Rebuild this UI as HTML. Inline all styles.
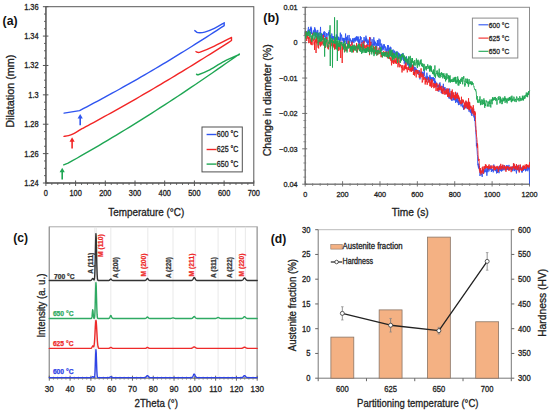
<!DOCTYPE html>
<html><head><meta charset="utf-8"><style>
html,body{margin:0;padding:0;background:#fff;width:550px;height:412px;overflow:hidden}
svg{display:block}
text{font-family:"Liberation Sans",sans-serif}
</style></head><body>
<svg width="550" height="412" viewBox="0 0 550 412">
<rect x="45.9" y="6.7" width="207.9" height="176.3" fill="none" stroke="#585858" stroke-width="1"/>
<line x1="45.90" y1="6.70" x2="45.90" y2="183.00" stroke="#666" stroke-width="1.4"/>
<line x1="45.90" y1="183.00" x2="253.80" y2="183.00" stroke="#666" stroke-width="1.4"/>
<line x1="42.90" y1="183.00" x2="48.40" y2="183.00" stroke="#555" stroke-width="1"/>
<text x="38.60" y="185.90" font-size="8.14" text-anchor="end" fill="#222" stroke="#222" stroke-width="0.3" textLength="14.4" lengthAdjust="spacingAndGlyphs">1.24</text>
<line x1="44.00" y1="175.65" x2="45.90" y2="175.65" stroke="#555" stroke-width="0.9"/>
<line x1="44.00" y1="168.31" x2="45.90" y2="168.31" stroke="#555" stroke-width="0.9"/>
<line x1="44.00" y1="160.96" x2="45.90" y2="160.96" stroke="#555" stroke-width="0.9"/>
<line x1="42.90" y1="153.62" x2="48.40" y2="153.62" stroke="#555" stroke-width="1"/>
<text x="38.60" y="156.52" font-size="8.14" text-anchor="end" fill="#222" stroke="#222" stroke-width="0.3" textLength="14.4" lengthAdjust="spacingAndGlyphs">1.26</text>
<line x1="44.00" y1="146.27" x2="45.90" y2="146.27" stroke="#555" stroke-width="0.9"/>
<line x1="44.00" y1="138.92" x2="45.90" y2="138.92" stroke="#555" stroke-width="0.9"/>
<line x1="44.00" y1="131.58" x2="45.90" y2="131.58" stroke="#555" stroke-width="0.9"/>
<line x1="42.90" y1="124.23" x2="48.40" y2="124.23" stroke="#555" stroke-width="1"/>
<text x="38.60" y="127.13" font-size="8.14" text-anchor="end" fill="#222" stroke="#222" stroke-width="0.3" textLength="14.4" lengthAdjust="spacingAndGlyphs">1.28</text>
<line x1="44.00" y1="116.89" x2="45.90" y2="116.89" stroke="#555" stroke-width="0.9"/>
<line x1="44.00" y1="109.54" x2="45.90" y2="109.54" stroke="#555" stroke-width="0.9"/>
<line x1="44.00" y1="102.20" x2="45.90" y2="102.20" stroke="#555" stroke-width="0.9"/>
<line x1="42.90" y1="94.85" x2="48.40" y2="94.85" stroke="#555" stroke-width="1"/>
<text x="38.60" y="97.75" font-size="8.14" text-anchor="end" fill="#222" stroke="#222" stroke-width="0.3" textLength="10.29" lengthAdjust="spacingAndGlyphs">1.3</text>
<line x1="44.00" y1="87.50" x2="45.90" y2="87.50" stroke="#555" stroke-width="0.9"/>
<line x1="44.00" y1="80.16" x2="45.90" y2="80.16" stroke="#555" stroke-width="0.9"/>
<line x1="44.00" y1="72.81" x2="45.90" y2="72.81" stroke="#555" stroke-width="0.9"/>
<line x1="42.90" y1="65.47" x2="48.40" y2="65.47" stroke="#555" stroke-width="1"/>
<text x="38.60" y="68.37" font-size="8.14" text-anchor="end" fill="#222" stroke="#222" stroke-width="0.3" textLength="14.4" lengthAdjust="spacingAndGlyphs">1.32</text>
<line x1="44.00" y1="58.12" x2="45.90" y2="58.12" stroke="#555" stroke-width="0.9"/>
<line x1="44.00" y1="50.77" x2="45.90" y2="50.77" stroke="#555" stroke-width="0.9"/>
<line x1="44.00" y1="43.43" x2="45.90" y2="43.43" stroke="#555" stroke-width="0.9"/>
<line x1="42.90" y1="36.08" x2="48.40" y2="36.08" stroke="#555" stroke-width="1"/>
<text x="38.60" y="38.98" font-size="8.14" text-anchor="end" fill="#222" stroke="#222" stroke-width="0.3" textLength="14.4" lengthAdjust="spacingAndGlyphs">1.34</text>
<line x1="44.00" y1="28.74" x2="45.90" y2="28.74" stroke="#555" stroke-width="0.9"/>
<line x1="44.00" y1="21.39" x2="45.90" y2="21.39" stroke="#555" stroke-width="0.9"/>
<line x1="44.00" y1="14.05" x2="45.90" y2="14.05" stroke="#555" stroke-width="0.9"/>
<line x1="42.90" y1="6.70" x2="48.40" y2="6.70" stroke="#555" stroke-width="1"/>
<text x="38.60" y="9.60" font-size="8.14" text-anchor="end" fill="#222" stroke="#222" stroke-width="0.3" textLength="14.4" lengthAdjust="spacingAndGlyphs">1.36</text>
<line x1="45.90" y1="180.50" x2="45.90" y2="186.00" stroke="#555" stroke-width="1"/>
<text x="45.90" y="196.20" font-size="8.14" text-anchor="middle" fill="#222" stroke="#222" stroke-width="0.3" textLength="4.12" lengthAdjust="spacingAndGlyphs">0</text>
<line x1="51.84" y1="183.00" x2="51.84" y2="184.90" stroke="#555" stroke-width="0.9"/>
<line x1="57.78" y1="183.00" x2="57.78" y2="184.90" stroke="#555" stroke-width="0.9"/>
<line x1="63.72" y1="183.00" x2="63.72" y2="184.90" stroke="#555" stroke-width="0.9"/>
<line x1="69.66" y1="183.00" x2="69.66" y2="184.90" stroke="#555" stroke-width="0.9"/>
<line x1="75.60" y1="180.50" x2="75.60" y2="186.00" stroke="#555" stroke-width="1"/>
<text x="75.60" y="196.20" font-size="8.14" text-anchor="middle" fill="#222" stroke="#222" stroke-width="0.3" textLength="12.35" lengthAdjust="spacingAndGlyphs">100</text>
<line x1="81.54" y1="183.00" x2="81.54" y2="184.90" stroke="#555" stroke-width="0.9"/>
<line x1="87.48" y1="183.00" x2="87.48" y2="184.90" stroke="#555" stroke-width="0.9"/>
<line x1="93.42" y1="183.00" x2="93.42" y2="184.90" stroke="#555" stroke-width="0.9"/>
<line x1="99.36" y1="183.00" x2="99.36" y2="184.90" stroke="#555" stroke-width="0.9"/>
<line x1="105.30" y1="180.50" x2="105.30" y2="186.00" stroke="#555" stroke-width="1"/>
<text x="105.30" y="196.20" font-size="8.14" text-anchor="middle" fill="#222" stroke="#222" stroke-width="0.3" textLength="12.35" lengthAdjust="spacingAndGlyphs">200</text>
<line x1="111.24" y1="183.00" x2="111.24" y2="184.90" stroke="#555" stroke-width="0.9"/>
<line x1="117.18" y1="183.00" x2="117.18" y2="184.90" stroke="#555" stroke-width="0.9"/>
<line x1="123.12" y1="183.00" x2="123.12" y2="184.90" stroke="#555" stroke-width="0.9"/>
<line x1="129.06" y1="183.00" x2="129.06" y2="184.90" stroke="#555" stroke-width="0.9"/>
<line x1="135.00" y1="180.50" x2="135.00" y2="186.00" stroke="#555" stroke-width="1"/>
<text x="135.00" y="196.20" font-size="8.14" text-anchor="middle" fill="#222" stroke="#222" stroke-width="0.3" textLength="12.35" lengthAdjust="spacingAndGlyphs">300</text>
<line x1="140.94" y1="183.00" x2="140.94" y2="184.90" stroke="#555" stroke-width="0.9"/>
<line x1="146.88" y1="183.00" x2="146.88" y2="184.90" stroke="#555" stroke-width="0.9"/>
<line x1="152.82" y1="183.00" x2="152.82" y2="184.90" stroke="#555" stroke-width="0.9"/>
<line x1="158.76" y1="183.00" x2="158.76" y2="184.90" stroke="#555" stroke-width="0.9"/>
<line x1="164.70" y1="180.50" x2="164.70" y2="186.00" stroke="#555" stroke-width="1"/>
<text x="164.70" y="196.20" font-size="8.14" text-anchor="middle" fill="#222" stroke="#222" stroke-width="0.3" textLength="12.35" lengthAdjust="spacingAndGlyphs">400</text>
<line x1="170.64" y1="183.00" x2="170.64" y2="184.90" stroke="#555" stroke-width="0.9"/>
<line x1="176.58" y1="183.00" x2="176.58" y2="184.90" stroke="#555" stroke-width="0.9"/>
<line x1="182.52" y1="183.00" x2="182.52" y2="184.90" stroke="#555" stroke-width="0.9"/>
<line x1="188.46" y1="183.00" x2="188.46" y2="184.90" stroke="#555" stroke-width="0.9"/>
<line x1="194.40" y1="180.50" x2="194.40" y2="186.00" stroke="#555" stroke-width="1"/>
<text x="194.40" y="196.20" font-size="8.14" text-anchor="middle" fill="#222" stroke="#222" stroke-width="0.3" textLength="12.35" lengthAdjust="spacingAndGlyphs">500</text>
<line x1="200.34" y1="183.00" x2="200.34" y2="184.90" stroke="#555" stroke-width="0.9"/>
<line x1="206.28" y1="183.00" x2="206.28" y2="184.90" stroke="#555" stroke-width="0.9"/>
<line x1="212.22" y1="183.00" x2="212.22" y2="184.90" stroke="#555" stroke-width="0.9"/>
<line x1="218.16" y1="183.00" x2="218.16" y2="184.90" stroke="#555" stroke-width="0.9"/>
<line x1="224.10" y1="180.50" x2="224.10" y2="186.00" stroke="#555" stroke-width="1"/>
<text x="224.10" y="196.20" font-size="8.14" text-anchor="middle" fill="#222" stroke="#222" stroke-width="0.3" textLength="12.35" lengthAdjust="spacingAndGlyphs">600</text>
<line x1="230.04" y1="183.00" x2="230.04" y2="184.90" stroke="#555" stroke-width="0.9"/>
<line x1="235.98" y1="183.00" x2="235.98" y2="184.90" stroke="#555" stroke-width="0.9"/>
<line x1="241.92" y1="183.00" x2="241.92" y2="184.90" stroke="#555" stroke-width="0.9"/>
<line x1="247.86" y1="183.00" x2="247.86" y2="184.90" stroke="#555" stroke-width="0.9"/>
<line x1="253.80" y1="180.50" x2="253.80" y2="186.00" stroke="#555" stroke-width="1"/>
<text x="253.80" y="196.20" font-size="8.14" text-anchor="middle" fill="#222" stroke="#222" stroke-width="0.3" textLength="12.35" lengthAdjust="spacingAndGlyphs">700</text>
<text x="14.00" y="91.20" font-size="11" text-anchor="middle" fill="#222" stroke="#222" stroke-width="0.3" transform="rotate(-90 14.00 91.20)" textLength="73" lengthAdjust="spacingAndGlyphs">Dilatation (mm)</text>
<text x="146.25" y="216.40" font-size="10.8" text-anchor="middle" fill="#222" stroke="#222" stroke-width="0.3" textLength="76" lengthAdjust="spacingAndGlyphs">Temperature (°C)</text>
<text x="2.60" y="25.00" font-size="12" text-anchor="start" fill="#111" font-weight="bold" textLength="15" lengthAdjust="spacingAndGlyphs">(a)</text>
<path d="M64.10,113.10 L79.60,110.60 L83.21,108.69 L86.83,106.80 L90.44,104.90 L94.06,102.99 L97.67,101.06 L101.29,99.12 L104.91,97.17 L108.52,95.21 L112.13,93.23 L115.75,91.24 L119.36,89.24 L122.98,87.22 L126.59,85.19 L130.21,83.15 L133.82,81.09 L137.44,79.03 L141.06,76.95 L144.67,74.85 L148.28,72.75 L151.90,70.63 L155.51,68.50 L159.13,66.35 L162.75,64.20 L166.36,62.03 L169.97,59.84 L173.59,57.65 L177.20,55.44 L180.82,53.22 L184.44,50.99 L188.05,48.74 L191.66,46.48 L195.28,44.21 L198.89,41.92 L202.51,39.62 L206.12,37.31 L209.74,34.99 L213.35,32.65 L216.97,30.30 L220.58,27.94 L224.20,25.57 L224.20,22.80 M224.20,22.80 C222.57,23.73 217.65,26.85 214.40,28.40 C211.15,29.95 207.45,31.40 204.70,32.10 C201.95,32.80 199.38,32.72 197.90,32.60 C196.42,32.48 196.32,31.73 195.80,31.40 C195.28,31.07 194.97,30.73 194.80,30.60" fill="none" stroke="#2f55f0" stroke-width="1.4" stroke-linejoin="round" stroke-linecap="round"/>
<path d="M64.00,136.40 C64.75,136.27 66.97,136.03 68.50,135.60 C70.03,135.17 71.62,134.55 73.20,133.80 C74.78,133.05 76.53,131.95 78.00,131.10 C79.47,130.25 80.00,129.82 82.00,128.70 C84.00,127.58 88.67,125.12 90.00,124.40 M90.00,124.43 L93.54,122.52 L97.08,120.59 L100.61,118.65 L104.15,116.71 L107.69,114.75 L111.22,112.79 L114.76,110.82 L118.30,108.83 L121.84,106.84 L125.38,104.84 L128.91,102.83 L132.45,100.81 L135.99,98.78 L139.53,96.74 L143.06,94.70 L146.60,92.64 L150.14,90.57 L153.68,88.50 L157.21,86.42 L160.75,84.32 L164.29,82.22 L167.82,80.11 L171.36,77.99 L174.90,75.86 L178.44,73.72 L181.97,71.57 L185.51,69.41 L189.05,67.24 L192.59,65.07 L196.12,62.88 L199.66,60.69 L203.20,58.48 L206.74,56.27 L210.28,54.05 L213.81,51.82 L217.35,49.57 L220.89,47.32 L224.43,45.06 L227.96,42.80 L231.50,40.52 L231.50,37.40 M231.50,37.40 C228.65,38.85 219.52,43.68 214.40,46.10 C209.28,48.52 203.62,50.87 200.80,51.90 C197.98,52.93 198.30,52.35 197.50,52.30 C196.70,52.25 196.25,51.72 196.00,51.60" fill="none" stroke="#f22525" stroke-width="1.4" stroke-linejoin="round" stroke-linecap="round"/>
<path d="M63.70,164.90 L68.09,163.20 L72.48,160.73 L76.87,158.24 L81.26,155.73 L85.65,153.21 L90.04,150.67 L94.43,148.12 L98.82,145.54 L103.21,142.95 L107.60,140.34 L111.99,137.71 L116.38,135.07 L120.77,132.41 L125.16,129.73 L129.55,127.03 L133.94,124.32 L138.33,121.59 L142.72,118.84 L147.11,116.07 L151.50,113.29 L155.89,110.49 L160.28,107.67 L164.67,104.83 L169.06,101.98 L173.45,99.11 L177.84,96.22 L182.23,93.32 L186.62,90.39 L191.01,87.45 L195.40,84.50 L199.79,81.52 L204.18,78.53 L208.57,75.52 L212.96,72.49 L217.35,69.45 L221.74,66.38 L226.13,63.30 L230.52,60.21 L234.91,57.09 L239.30,53.96 M239.30,54.50 C236.78,55.63 229.32,58.65 224.20,61.30 C219.08,63.95 212.82,68.20 208.60,70.40 C204.38,72.60 200.92,73.87 198.90,74.50 C196.88,75.13 196.90,74.25 196.50,74.20" fill="none" stroke="#1ea653" stroke-width="1.4" stroke-linejoin="round" stroke-linecap="round"/>
<line x1="80.20" y1="125.20" x2="80.20" y2="117.00" stroke="#2f55f0" stroke-width="1.6"/>
<polygon points="77.60,118.50 82.80,118.50 80.20,114.00" fill="#2f55f0"/>
<line x1="72.10" y1="148.50" x2="72.10" y2="140.20" stroke="#f22525" stroke-width="1.6"/>
<polygon points="69.50,141.70 74.70,141.70 72.10,137.20" fill="#f22525"/>
<line x1="62.20" y1="179.50" x2="62.20" y2="170.80" stroke="#1ea653" stroke-width="1.6"/>
<polygon points="59.60,172.30 64.80,172.30 62.20,167.80" fill="#1ea653"/>
<rect x="202" y="127" width="40.3" height="44.9" fill="#fff" stroke="#505050" stroke-width="1"/>
<line x1="206.60" y1="134.50" x2="216.50" y2="134.50" stroke="#2f55f0" stroke-width="1.4"/>
<text x="216.80" y="137.40" font-size="8.2" text-anchor="start" fill="#222" stroke="#222" stroke-width="0.3" textLength="21.6" lengthAdjust="spacingAndGlyphs">600 °C</text>
<line x1="206.60" y1="149.50" x2="216.50" y2="149.50" stroke="#f22525" stroke-width="1.4"/>
<text x="216.80" y="152.40" font-size="8.2" text-anchor="start" fill="#222" stroke="#222" stroke-width="0.3" textLength="21.6" lengthAdjust="spacingAndGlyphs">625 °C</text>
<line x1="206.60" y1="164.10" x2="216.50" y2="164.10" stroke="#1ea653" stroke-width="1.4"/>
<text x="216.80" y="167.00" font-size="8.2" text-anchor="start" fill="#222" stroke="#222" stroke-width="0.3" textLength="21.6" lengthAdjust="spacingAndGlyphs">650 °C</text>
<rect x="305.2" y="7.3" width="224.3" height="176.89999999999998" fill="none" stroke="#8c8c8c" stroke-width="1"/>
<line x1="305.20" y1="7.30" x2="305.20" y2="184.20" stroke="#6f6f6f" stroke-width="1.0"/>
<line x1="305.20" y1="184.20" x2="529.50" y2="184.20" stroke="#6f6f6f" stroke-width="1.0"/>
<line x1="302.20" y1="184.20" x2="307.20" y2="184.20" stroke="#666" stroke-width="0.9"/>
<text x="297.60" y="187.00" font-size="8.03" text-anchor="end" fill="#222" stroke="#222" stroke-width="0.3" textLength="14.21" lengthAdjust="spacingAndGlyphs">0.04</text>
<line x1="303.40" y1="177.12" x2="306.20" y2="177.12" stroke="#777" stroke-width="0.8"/>
<line x1="303.40" y1="170.05" x2="306.20" y2="170.05" stroke="#777" stroke-width="0.8"/>
<line x1="303.40" y1="162.97" x2="306.20" y2="162.97" stroke="#777" stroke-width="0.8"/>
<line x1="303.40" y1="155.90" x2="306.20" y2="155.90" stroke="#777" stroke-width="0.8"/>
<line x1="302.20" y1="148.82" x2="307.20" y2="148.82" stroke="#666" stroke-width="0.9"/>
<text x="297.60" y="151.62" font-size="8.03" text-anchor="end" fill="#222" stroke="#222" stroke-width="0.3" textLength="18.47" lengthAdjust="spacingAndGlyphs">−0.03</text>
<line x1="303.40" y1="141.74" x2="306.20" y2="141.74" stroke="#777" stroke-width="0.8"/>
<line x1="303.40" y1="134.67" x2="306.20" y2="134.67" stroke="#777" stroke-width="0.8"/>
<line x1="303.40" y1="127.59" x2="306.20" y2="127.59" stroke="#777" stroke-width="0.8"/>
<line x1="303.40" y1="120.52" x2="306.20" y2="120.52" stroke="#777" stroke-width="0.8"/>
<line x1="302.20" y1="113.44" x2="307.20" y2="113.44" stroke="#666" stroke-width="0.9"/>
<text x="297.60" y="116.24" font-size="8.03" text-anchor="end" fill="#222" stroke="#222" stroke-width="0.3" textLength="18.47" lengthAdjust="spacingAndGlyphs">−0.02</text>
<line x1="303.40" y1="106.36" x2="306.20" y2="106.36" stroke="#777" stroke-width="0.8"/>
<line x1="303.40" y1="99.29" x2="306.20" y2="99.29" stroke="#777" stroke-width="0.8"/>
<line x1="303.40" y1="92.21" x2="306.20" y2="92.21" stroke="#777" stroke-width="0.8"/>
<line x1="303.40" y1="85.14" x2="306.20" y2="85.14" stroke="#777" stroke-width="0.8"/>
<line x1="302.20" y1="78.06" x2="307.20" y2="78.06" stroke="#666" stroke-width="0.9"/>
<text x="297.60" y="80.86" font-size="8.03" text-anchor="end" fill="#222" stroke="#222" stroke-width="0.3" textLength="18.47" lengthAdjust="spacingAndGlyphs">−0.01</text>
<line x1="303.40" y1="70.98" x2="306.20" y2="70.98" stroke="#777" stroke-width="0.8"/>
<line x1="303.40" y1="63.91" x2="306.20" y2="63.91" stroke="#777" stroke-width="0.8"/>
<line x1="303.40" y1="56.83" x2="306.20" y2="56.83" stroke="#777" stroke-width="0.8"/>
<line x1="303.40" y1="49.76" x2="306.20" y2="49.76" stroke="#777" stroke-width="0.8"/>
<line x1="302.20" y1="42.68" x2="307.20" y2="42.68" stroke="#666" stroke-width="0.9"/>
<text x="297.60" y="45.48" font-size="8.03" text-anchor="end" fill="#222" stroke="#222" stroke-width="0.3" textLength="4.06" lengthAdjust="spacingAndGlyphs">0</text>
<line x1="303.40" y1="35.60" x2="306.20" y2="35.60" stroke="#777" stroke-width="0.8"/>
<line x1="303.40" y1="28.53" x2="306.20" y2="28.53" stroke="#777" stroke-width="0.8"/>
<line x1="303.40" y1="21.45" x2="306.20" y2="21.45" stroke="#777" stroke-width="0.8"/>
<line x1="303.40" y1="14.38" x2="306.20" y2="14.38" stroke="#777" stroke-width="0.8"/>
<line x1="302.20" y1="7.30" x2="307.20" y2="7.30" stroke="#666" stroke-width="0.9"/>
<text x="297.60" y="10.10" font-size="8.03" text-anchor="end" fill="#222" stroke="#222" stroke-width="0.3" textLength="14.21" lengthAdjust="spacingAndGlyphs">0.01</text>
<line x1="305.20" y1="181.20" x2="305.20" y2="186.50" stroke="#666" stroke-width="0.9"/>
<text x="305.20" y="196.70" font-size="8.03" text-anchor="middle" fill="#222" stroke="#222" stroke-width="0.3" textLength="4.06" lengthAdjust="spacingAndGlyphs">0</text>
<line x1="312.68" y1="183.20" x2="312.68" y2="186.00" stroke="#777" stroke-width="0.8"/>
<line x1="320.15" y1="183.20" x2="320.15" y2="186.00" stroke="#777" stroke-width="0.8"/>
<line x1="327.63" y1="183.20" x2="327.63" y2="186.00" stroke="#777" stroke-width="0.8"/>
<line x1="335.11" y1="183.20" x2="335.11" y2="186.00" stroke="#777" stroke-width="0.8"/>
<line x1="342.58" y1="181.20" x2="342.58" y2="186.50" stroke="#666" stroke-width="0.9"/>
<text x="342.58" y="196.70" font-size="8.03" text-anchor="middle" fill="#222" stroke="#222" stroke-width="0.3" textLength="12.18" lengthAdjust="spacingAndGlyphs">200</text>
<line x1="350.06" y1="183.20" x2="350.06" y2="186.00" stroke="#777" stroke-width="0.8"/>
<line x1="357.54" y1="183.20" x2="357.54" y2="186.00" stroke="#777" stroke-width="0.8"/>
<line x1="365.01" y1="183.20" x2="365.01" y2="186.00" stroke="#777" stroke-width="0.8"/>
<line x1="372.49" y1="183.20" x2="372.49" y2="186.00" stroke="#777" stroke-width="0.8"/>
<line x1="379.97" y1="181.20" x2="379.97" y2="186.50" stroke="#666" stroke-width="0.9"/>
<text x="379.97" y="196.70" font-size="8.03" text-anchor="middle" fill="#222" stroke="#222" stroke-width="0.3" textLength="12.18" lengthAdjust="spacingAndGlyphs">400</text>
<line x1="387.44" y1="183.20" x2="387.44" y2="186.00" stroke="#777" stroke-width="0.8"/>
<line x1="394.92" y1="183.20" x2="394.92" y2="186.00" stroke="#777" stroke-width="0.8"/>
<line x1="402.40" y1="183.20" x2="402.40" y2="186.00" stroke="#777" stroke-width="0.8"/>
<line x1="409.87" y1="183.20" x2="409.87" y2="186.00" stroke="#777" stroke-width="0.8"/>
<line x1="417.35" y1="181.20" x2="417.35" y2="186.50" stroke="#666" stroke-width="0.9"/>
<text x="417.35" y="196.70" font-size="8.03" text-anchor="middle" fill="#222" stroke="#222" stroke-width="0.3" textLength="12.18" lengthAdjust="spacingAndGlyphs">600</text>
<line x1="424.83" y1="183.20" x2="424.83" y2="186.00" stroke="#777" stroke-width="0.8"/>
<line x1="432.30" y1="183.20" x2="432.30" y2="186.00" stroke="#777" stroke-width="0.8"/>
<line x1="439.78" y1="183.20" x2="439.78" y2="186.00" stroke="#777" stroke-width="0.8"/>
<line x1="447.26" y1="183.20" x2="447.26" y2="186.00" stroke="#777" stroke-width="0.8"/>
<line x1="454.73" y1="181.20" x2="454.73" y2="186.50" stroke="#666" stroke-width="0.9"/>
<text x="454.73" y="196.70" font-size="8.03" text-anchor="middle" fill="#222" stroke="#222" stroke-width="0.3" textLength="12.18" lengthAdjust="spacingAndGlyphs">800</text>
<line x1="462.21" y1="183.20" x2="462.21" y2="186.00" stroke="#777" stroke-width="0.8"/>
<line x1="469.69" y1="183.20" x2="469.69" y2="186.00" stroke="#777" stroke-width="0.8"/>
<line x1="477.16" y1="183.20" x2="477.16" y2="186.00" stroke="#777" stroke-width="0.8"/>
<line x1="484.64" y1="183.20" x2="484.64" y2="186.00" stroke="#777" stroke-width="0.8"/>
<line x1="492.12" y1="181.20" x2="492.12" y2="186.50" stroke="#666" stroke-width="0.9"/>
<text x="492.12" y="196.70" font-size="8.03" text-anchor="middle" fill="#222" stroke="#222" stroke-width="0.3" textLength="16.24" lengthAdjust="spacingAndGlyphs">1000</text>
<line x1="499.59" y1="183.20" x2="499.59" y2="186.00" stroke="#777" stroke-width="0.8"/>
<line x1="507.07" y1="183.20" x2="507.07" y2="186.00" stroke="#777" stroke-width="0.8"/>
<line x1="514.55" y1="183.20" x2="514.55" y2="186.00" stroke="#777" stroke-width="0.8"/>
<line x1="522.02" y1="183.20" x2="522.02" y2="186.00" stroke="#777" stroke-width="0.8"/>
<line x1="529.50" y1="181.20" x2="529.50" y2="186.50" stroke="#666" stroke-width="0.9"/>
<text x="529.50" y="196.70" font-size="8.03" text-anchor="middle" fill="#222" stroke="#222" stroke-width="0.3" textLength="16.24" lengthAdjust="spacingAndGlyphs">1200</text>
<text x="271.00" y="100.30" font-size="11" text-anchor="middle" fill="#222" stroke="#222" stroke-width="0.3" transform="rotate(-90 271.00 100.30)" textLength="112" lengthAdjust="spacingAndGlyphs">Change in diameter (%)</text>
<text x="410.20" y="215.70" font-size="10.8" text-anchor="middle" fill="#222" stroke="#222" stroke-width="0.3" textLength="37" lengthAdjust="spacingAndGlyphs">Time (s)</text>
<text x="263.30" y="21.60" font-size="12" text-anchor="start" fill="#111" font-weight="bold" textLength="16" lengthAdjust="spacingAndGlyphs">(b)</text>
<polyline points="305.20,32.23 305.39,35.11 305.57,30.91 305.76,34.07 305.95,32.19 306.13,31.55 306.32,36.54 306.51,34.12 306.70,32.81 306.88,34.23 307.07,35.70 307.26,33.45 307.44,34.18 307.63,30.70 307.82,30.96 308.00,30.90 308.19,28.75 308.38,27.60 308.56,26.93 308.75,30.05 308.94,31.32 309.13,31.43 309.31,32.42 309.50,29.42 309.69,31.41 309.87,32.88 310.06,34.65 310.25,31.46 310.43,31.43 310.62,27.56 310.81,29.86 310.99,26.62 311.18,27.37 311.37,33.70 311.56,28.01 311.74,33.24 311.93,33.96 312.12,32.70 312.30,34.13 312.49,34.81 312.68,36.32 312.86,33.80 313.05,32.07 313.24,31.46 313.42,30.35 313.61,32.24 313.80,31.14 313.99,35.23 314.17,29.63 314.36,29.55 314.55,29.88 314.73,27.28 314.92,35.98 315.11,28.70 315.29,31.27 315.48,31.61 315.67,36.99 315.85,30.15 316.04,35.11 316.23,32.54 316.41,33.05 316.60,32.01 316.79,34.81 316.98,31.54 317.16,32.96 317.35,34.52 317.54,38.65 317.72,29.93 317.91,36.33 318.10,37.20 318.28,34.09 318.47,34.92 318.66,33.38 318.84,37.93 319.03,36.09 319.22,34.45 319.41,33.86 319.59,33.75 319.78,33.78 319.97,32.13 320.15,38.62 320.34,31.40 320.53,26.91 320.71,31.65 320.90,33.28 321.09,35.12 321.27,34.41 321.46,34.32 321.65,35.47 321.84,37.43 322.02,34.74 322.21,34.01 322.40,39.34 322.58,37.84 322.77,33.71 322.96,40.23 323.14,38.83 323.33,35.09 323.52,32.40 323.70,35.03 323.89,33.26 324.08,32.13 324.27,31.19 324.45,32.78 324.64,37.24 324.83,35.13 325.01,31.98 325.20,35.99 325.39,35.97 325.57,37.86 325.76,39.41 325.95,36.69 326.13,35.83 326.32,35.79 326.51,33.19 326.70,36.64 326.88,39.56 327.07,37.73 327.26,36.14 327.44,35.55 327.63,34.12 327.82,33.60 328.00,34.41 328.19,33.66 328.38,34.40 328.56,31.95 328.75,35.74 328.94,36.38 329.13,33.74 329.31,30.10 329.50,34.35 329.69,38.53 329.87,35.61 330.06,35.22 330.25,34.91 330.43,37.76 330.62,35.02 330.81,38.65 330.99,36.86 331.18,39.20 331.37,37.91 331.56,36.85 331.74,33.52 331.93,34.28 332.12,35.59 332.30,38.29 332.49,38.27 332.68,36.03 332.86,37.93 333.05,40.01 333.24,38.04 333.42,36.68 333.61,36.34 333.80,39.14 333.99,39.49 334.17,36.12 334.36,38.10 334.55,36.77 334.73,35.68 334.92,40.10 335.11,40.68 335.29,37.19 335.48,37.93 335.67,39.23 335.85,36.98 336.04,37.46 336.23,39.55 336.42,34.41 336.60,37.72 336.79,39.89 336.98,40.12 337.16,35.80 337.35,38.30 337.54,36.36 337.72,39.15 337.91,40.24 338.10,39.72 338.28,37.21 338.47,36.77 338.66,40.12 338.84,37.11 339.03,39.43 339.22,40.31 339.41,38.75 339.59,44.65 339.78,41.16 339.97,44.92 340.15,36.25 340.34,32.68 340.53,39.18 340.71,40.64 340.90,38.88 341.09,38.89 341.27,34.46 341.46,35.98 341.65,35.55 341.84,37.35 342.02,40.65 342.21,39.82 342.40,40.30 342.58,37.90 342.77,37.71 342.96,38.96 343.14,38.46 343.33,42.00 343.52,38.12 343.70,43.40 343.89,38.37 344.08,41.51 344.27,38.22 344.45,42.89 344.64,40.91 344.83,40.85 345.01,41.67 345.20,38.65 345.39,36.62 345.57,33.56 345.76,40.29 345.95,38.05 346.13,37.53 346.32,38.70 346.51,43.96 346.70,36.89 346.88,39.17 347.07,38.43 347.26,40.41 347.44,35.51 347.63,37.17 347.82,40.73 348.00,43.71 348.19,44.85 348.38,39.37 348.56,39.65 348.75,39.36 348.94,36.22 349.13,34.98 349.31,39.83 349.50,40.31 349.69,39.55 349.87,42.55 350.06,38.29 350.25,40.47 350.43,40.01 350.62,39.69 350.81,40.90 350.99,40.58 351.18,40.69 351.37,40.74 351.56,44.78 351.74,40.80 351.93,42.59 352.12,42.26 352.30,39.85 352.49,41.76 352.68,38.47 352.86,42.17 353.05,38.75 353.24,38.33 353.42,40.14 353.61,42.00 353.80,42.84 353.99,43.11 354.17,40.57 354.36,37.89 354.55,40.58 354.73,40.93 354.92,38.06 355.11,41.70 355.29,41.13 355.48,38.17 355.67,40.51 355.85,37.10 356.04,37.00 356.23,40.06 356.42,36.44 356.60,39.01 356.79,36.60 356.98,40.78 357.16,38.75 357.35,40.24 357.54,36.73 357.72,38.30 357.91,41.96 358.10,42.09 358.28,36.63 358.47,41.37 358.66,42.97 358.85,40.50 359.03,43.96 359.22,39.24 359.41,39.95 359.59,43.09 359.78,44.67 359.97,45.17 360.15,39.66 360.34,36.11 360.53,40.09 360.71,37.12 360.90,39.22 361.09,37.21 361.27,42.15 361.46,43.27 361.65,43.09 361.84,41.75 362.02,41.36 362.21,40.42 362.40,41.74 362.58,41.90 362.77,42.47 362.96,40.56 363.14,45.49 363.33,43.36 363.52,45.29 363.70,45.84 363.89,40.74 364.08,37.03 364.27,42.82 364.45,40.91 364.64,41.38 364.83,40.75 365.01,41.48 365.20,38.58 365.39,40.19 365.57,39.90 365.76,40.90 365.95,35.69 366.13,41.46 366.32,42.32 366.51,37.70 366.70,38.48 366.88,40.61 367.07,42.80 367.26,42.08 367.44,45.16 367.63,42.99 367.82,39.79 368.00,39.47 368.19,42.78 368.38,40.69 368.56,43.47 368.75,44.89 368.94,44.37 369.13,45.23 369.31,42.69 369.50,42.21 369.69,40.66 369.87,40.13 370.06,37.69 370.25,39.30 370.43,38.67 370.62,37.63 370.81,41.08 370.99,43.07 371.18,41.90 371.37,45.63 371.56,45.95 371.74,46.35 371.93,42.58 372.12,39.16 372.30,42.93 372.49,43.69 372.68,45.00 372.86,44.75 373.05,46.73 373.24,43.75 373.42,45.04 373.61,41.78 373.80,37.29 373.99,40.23 374.17,45.96 374.36,40.39 374.55,44.94 374.73,42.50 374.92,42.36 375.11,43.42 375.29,44.23 375.48,41.71 375.67,43.51 375.85,44.94 376.04,46.42 376.23,43.16 376.42,47.60 376.60,50.04 376.79,52.03 376.98,43.88 377.16,44.70 377.35,40.15 377.54,43.97 377.72,45.77 377.91,42.35 378.10,40.14 378.28,43.67 378.47,46.00 378.66,43.44 378.85,43.87 379.03,38.62 379.22,41.19 379.41,44.18 379.59,45.27 379.78,49.13 379.97,43.99 380.15,39.56 380.34,44.54 380.53,43.82 380.71,45.71 380.90,47.45 381.09,47.82 381.28,50.01 381.46,50.60 381.65,43.60 381.84,45.04 382.02,50.54 382.21,46.72 382.40,48.72 382.58,47.01 382.77,45.57 382.96,49.92 383.14,50.18 383.33,47.23 383.52,49.00 383.70,44.33 383.89,44.15 384.08,48.03 384.27,47.35 384.45,44.52 384.64,47.19 384.83,47.88 385.01,50.51 385.20,50.73 385.39,47.93 385.57,46.53 385.76,46.95 385.95,46.96 386.13,51.10 386.32,52.93 386.51,53.10 386.70,50.89 386.88,48.70 387.07,50.77 387.26,48.57 387.44,49.28 387.63,45.05 387.82,46.63 388.00,51.73 388.19,47.68 388.38,45.22 388.56,47.63 388.75,52.95 388.94,54.37 389.13,50.61 389.31,49.08 389.50,49.51 389.69,47.77 389.87,49.57 390.06,49.47 390.25,46.69 390.43,47.95 390.62,49.25 390.81,48.33 390.99,47.47 391.18,52.11 391.37,56.19 391.56,52.46 391.74,50.90 391.93,52.66 392.12,51.61 392.30,49.99 392.49,54.72 392.68,50.62 392.86,50.00 393.05,50.03 393.24,49.59 393.42,51.07 393.61,53.62 393.80,56.67 393.99,55.95 394.17,54.27 394.36,50.68 394.55,52.36 394.73,50.91 394.92,52.51 395.11,55.73 395.29,55.08 395.48,53.94 395.67,52.32 395.85,53.59 396.04,54.43 396.23,52.31 396.42,52.66 396.60,56.20 396.79,51.41 396.98,52.74 397.16,51.55 397.35,57.72 397.54,57.71 397.72,57.56 397.91,57.31 398.10,57.04 398.28,57.03 398.47,52.61 398.66,55.56 398.85,57.48 399.03,53.38 399.22,57.44 399.41,58.56 399.59,53.77 399.78,54.70 399.97,55.50 400.15,55.38 400.34,57.65 400.53,54.54 400.71,56.10 400.90,57.82 401.09,59.74 401.28,58.89 401.46,58.01 401.65,60.04 401.84,54.43 402.02,59.59 402.21,58.53 402.40,56.00 402.58,57.19 402.77,54.35 402.96,52.96 403.14,56.70 403.33,57.04 403.52,60.89 403.71,58.46 403.89,56.74 404.08,57.05 404.27,63.68 404.45,62.06 404.64,60.07 404.83,58.57 405.01,57.90 405.20,60.01 405.39,62.28 405.57,64.92 405.76,65.94 405.95,64.31 406.13,61.61 406.32,60.29 406.51,56.45 406.70,58.32 406.88,62.54 407.07,62.30 407.26,64.02 407.44,60.61 407.63,64.92 407.82,65.09 408.00,64.65 408.19,65.46 408.38,59.53 408.56,61.59 408.75,61.60 408.94,68.22 409.13,65.85 409.31,64.36 409.50,67.21 409.69,63.73 409.87,68.57 410.06,65.27 410.25,65.74 410.43,63.93 410.62,67.52 410.81,61.71 410.99,66.63 411.18,64.82 411.37,66.35 411.56,64.09 411.74,66.70 411.93,67.60 412.12,68.97 412.30,68.87 412.49,69.66 412.68,70.91 412.86,68.12 413.05,65.33 413.24,64.21 413.42,68.60 413.61,67.68 413.80,70.88 413.99,69.66 414.17,66.79 414.36,70.47 414.55,74.33 414.73,70.67 414.92,67.66 415.11,66.92 415.29,70.91 415.48,68.85 415.67,68.65 415.85,71.28 416.04,70.67 416.23,70.79 416.42,69.33 416.60,68.69 416.79,70.47 416.98,71.16 417.16,72.54 417.35,70.48 417.54,71.88 417.72,72.77 417.91,72.22 418.10,73.28 418.28,74.80 418.47,73.46 418.66,72.80 418.85,70.13 419.03,72.40 419.22,72.27 419.41,71.79 419.59,70.47 419.78,73.45 419.97,79.35 420.15,76.37 420.34,74.57 420.53,74.85 420.71,72.55 420.90,73.47 421.09,72.05 421.28,71.67 421.46,73.71 421.65,74.49 421.84,74.01 422.02,72.28 422.21,74.29 422.40,71.82 422.58,75.49 422.77,74.16 422.96,74.60 423.14,76.71 423.33,76.97 423.52,72.70 423.71,73.78 423.89,75.71 424.08,72.97 424.27,68.92 424.45,73.17 424.64,74.79 424.83,76.57 425.01,76.44 425.20,76.58 425.39,76.96 425.57,79.89 425.76,78.85 425.95,78.70 426.14,76.48 426.32,79.41 426.51,77.36 426.70,78.94 426.88,72.73 427.07,76.28 427.26,76.77 427.44,76.14 427.63,80.19 427.82,79.56 428.00,78.10 428.19,76.74 428.38,82.10 428.56,81.34 428.75,80.93 428.94,77.45 429.13,81.26 429.31,80.88 429.50,78.84 429.69,78.59 429.87,74.92 430.06,79.17 430.25,76.58 430.43,80.39 430.62,78.74 430.81,77.81 430.99,79.94 431.18,80.40 431.37,77.44 431.56,79.01 431.74,81.27 431.93,80.10 432.12,77.16 432.30,78.85 432.49,77.81 432.68,78.45 432.86,80.25 433.05,80.73 433.24,80.61 433.42,77.20 433.61,80.88 433.80,80.94 433.99,80.56 434.17,81.85 434.36,86.63 434.55,80.69 434.73,77.94 434.92,82.73 435.11,80.78 435.29,85.18 435.48,81.35 435.67,81.28 435.85,84.50 436.04,85.90 436.23,85.35 436.42,85.28 436.60,83.94 436.79,82.81 436.98,83.07 437.16,86.77 437.35,86.80 437.54,85.26 437.72,85.51 437.91,86.91 438.10,88.33 438.28,85.77 438.47,85.09 438.66,85.92 438.85,91.73 439.03,88.20 439.22,89.50 439.41,83.35 439.59,86.97 439.78,82.95 439.97,82.40 440.15,83.38 440.34,85.00 440.53,86.44 440.71,87.49 440.90,87.63 441.09,86.19 441.28,93.02 441.46,90.27 441.65,90.06 441.84,93.32 442.02,92.05 442.21,90.78 442.40,89.83 442.58,93.27 442.77,87.56 442.96,85.96 443.14,88.13 443.33,83.79 443.52,85.37 443.71,90.57 443.89,88.71 444.08,89.64 444.27,91.33 444.45,87.61 444.64,89.82 444.83,88.56 445.01,87.11 445.20,88.66 445.39,89.82 445.57,89.51 445.76,88.89 445.95,92.61 446.14,94.49 446.32,93.83 446.51,92.14 446.70,89.38 446.88,89.07 447.07,88.39 447.26,91.38 447.44,94.20 447.63,95.29 447.82,93.55 448.00,92.18 448.19,93.14 448.38,93.45 448.57,94.78 448.75,97.44 448.94,93.35 449.13,98.61 449.31,90.59 449.50,88.65 449.69,88.70 449.87,89.99 450.06,92.42 450.25,98.82 450.43,94.58 450.62,97.48 450.81,95.10 451.00,95.58 451.18,93.05 451.37,100.08 451.56,97.15 451.74,94.84 451.93,100.99 452.12,98.26 452.30,97.96 452.49,96.61 452.68,94.60 452.86,92.56 453.05,94.93 453.24,100.10 453.42,99.17 453.61,97.52 453.80,99.96 453.99,96.18 454.17,100.43 454.36,98.70 454.55,96.25 454.73,99.07 454.92,99.77 455.11,98.06 455.29,98.88 455.48,101.08 455.67,102.95 455.85,98.35 456.04,92.59 456.23,101.78 456.42,99.60 456.60,98.56 456.79,100.30 456.98,98.97 457.16,102.09 457.35,97.83 457.54,98.91 457.72,96.88 457.91,102.87 458.10,100.85 458.28,103.43 458.47,105.11 458.66,99.65 458.85,100.15 459.03,102.65 459.22,102.03 459.41,101.46 459.59,103.68 459.78,104.72 459.97,101.59 460.15,101.70 460.34,103.71 460.53,103.49 460.71,103.35 460.90,100.41 461.09,106.33 461.28,103.78 461.46,104.19 461.65,103.71 461.84,103.90 462.02,104.27 462.21,102.17 462.40,104.42 462.58,107.28 462.77,106.49 462.96,107.09 463.14,106.83 463.33,105.78 463.52,109.76 463.71,105.32 463.89,106.41 464.08,108.43 464.27,107.50 464.45,104.08 464.64,102.91 464.83,108.91 465.01,105.12 465.20,106.21 465.39,107.97 465.57,107.62 465.76,103.15 465.95,101.41 466.14,105.18 466.32,105.01 466.51,106.28 466.70,107.67 466.88,108.44 467.07,105.24 467.26,103.41 467.44,109.13 467.63,107.50 467.82,105.74 468.00,103.27 468.19,108.55 468.38,106.22 468.57,106.03 468.75,110.05 468.94,110.80 469.13,111.79 469.31,107.88 469.50,102.82 469.69,105.63 469.87,108.35 470.06,108.55 470.25,112.45 470.43,112.68 470.62,109.53 470.81,112.39 471.00,111.81 471.18,110.92 471.37,114.57 471.56,109.31 471.74,114.03 471.93,115.95 472.12,109.23 472.30,111.45 472.49,112.42 472.68,110.56 472.86,111.37 473.05,111.21 473.24,113.36 473.42,112.75 473.61,108.88 473.80,115.61 473.99,117.38 474.17,113.99 474.36,117.00 474.55,120.93 474.73,116.12 474.92,118.76 475.11,121.01 475.29,125.95 475.48,127.21 475.67,126.61 475.85,134.35 476.04,134.85 476.23,139.28 476.42,146.24 476.60,143.09 476.79,144.47 476.98,149.80 477.16,150.90 477.35,154.47 477.54,156.14 477.72,165.14 477.91,164.77 478.10,165.62 478.28,167.07 478.47,167.81 478.66,163.55 478.85,165.64 479.03,169.14 479.22,166.02 479.41,168.23 479.59,169.01 479.78,168.60 479.97,176.00 480.15,174.64 480.34,173.04 480.53,169.78 480.71,170.70 480.90,170.09 481.09,170.42 481.28,171.05 481.46,175.19 481.65,174.61 481.84,175.02 482.02,174.57 482.21,176.90 482.40,171.67 482.58,168.74 482.77,170.28 482.96,170.88 483.14,170.69 483.33,169.46 483.52,171.28 483.71,173.68 483.89,171.91 484.08,170.49 484.27,172.44 484.45,170.50 484.64,169.72 484.83,170.59 485.01,166.38 485.20,172.09 485.39,170.62 485.57,171.17 485.76,170.99 485.95,171.07 486.14,168.06 486.32,172.36 486.51,171.77 486.70,171.07 486.88,175.73 487.07,169.71 487.26,171.05 487.44,170.05 487.63,167.26 487.82,172.21 488.00,167.88 488.19,169.27 488.38,169.35 488.57,169.83 488.75,168.03 488.94,171.36 489.13,170.59 489.31,167.65 489.50,166.71 489.69,168.93 489.87,167.21 490.06,169.34 490.25,169.89 490.43,168.48 490.62,165.64 490.81,165.71 491.00,168.59 491.18,168.06 491.37,171.96 491.56,169.33 491.74,169.82 491.93,170.48 492.12,169.67 492.30,169.78 492.49,171.03 492.68,169.46 492.86,169.75 493.05,168.64 493.24,172.34 493.43,170.46 493.61,170.96 493.80,164.53 493.99,166.59 494.17,166.20 494.36,168.08 494.55,167.90 494.73,166.79 494.92,167.73 495.11,169.95 495.29,171.16 495.48,168.82 495.67,170.74 495.86,168.52 496.04,169.88 496.23,167.79 496.42,170.36 496.60,173.46 496.79,170.02 496.98,171.44 497.16,167.31 497.35,167.28 497.54,172.96 497.72,170.23 497.91,170.26 498.10,166.58 498.28,168.09 498.47,167.28 498.66,170.43 498.85,168.53 499.03,173.19 499.22,168.52 499.41,169.34 499.59,165.60 499.78,167.05 499.97,170.36 500.15,169.23 500.34,166.77 500.53,169.01 500.71,170.58 500.90,170.24 501.09,171.08 501.28,167.20 501.46,171.45 501.65,171.01 501.84,165.98 502.02,171.10 502.21,168.84 502.40,169.75 502.58,165.75 502.77,166.69 502.96,164.94 503.14,168.94 503.33,168.49 503.52,167.13 503.71,167.60 503.89,170.36 504.08,168.03 504.27,169.54 504.45,167.04 504.64,165.33 504.83,166.77 505.01,167.61 505.20,168.71 505.39,170.42 505.57,168.67 505.76,168.14 505.95,169.90 506.14,169.94 506.32,169.12 506.51,169.33 506.70,165.21 506.88,166.60 507.07,165.27 507.26,166.96 507.44,169.71 507.63,166.21 507.82,169.48 508.00,168.06 508.19,168.17 508.38,167.77 508.57,169.65 508.75,167.93 508.94,164.89 509.13,167.97 509.31,168.23 509.50,169.67 509.69,170.12 509.87,167.15 510.06,168.55 510.25,168.89 510.43,168.68 510.62,168.90 510.81,169.35 511.00,168.00 511.18,168.22 511.37,170.25 511.56,167.44 511.74,168.15 511.93,166.78 512.12,166.21 512.30,167.13 512.49,168.47 512.68,171.26 512.86,169.26 513.05,170.52 513.24,170.28 513.43,169.38 513.61,163.59 513.80,167.14 513.99,168.25 514.17,166.75 514.36,168.25 514.55,171.09 514.73,167.54 514.92,167.41 515.11,169.81 515.29,165.97 515.48,165.95 515.67,168.24 515.86,170.17 516.04,171.30 516.23,170.90 516.42,173.44 516.60,171.01 516.79,167.26 516.98,167.84 517.16,169.45 517.35,169.58 517.54,165.64 517.72,168.26 517.91,167.15 518.10,167.78 518.28,170.87 518.47,169.14 518.66,167.67 518.85,168.10 519.03,167.34 519.22,171.72 519.41,171.14 519.59,171.09 519.78,168.31 519.97,167.41 520.15,168.64 520.34,164.86 520.53,169.07 520.71,166.57 520.90,168.07 521.09,169.00 521.28,167.38 521.46,168.79 521.65,169.88 521.84,172.33 522.02,170.59 522.21,172.43 522.40,170.74 522.58,169.01 522.77,170.23 522.96,168.26 523.14,168.73 523.33,169.71 523.52,170.95 523.71,169.88 523.89,166.51 524.08,170.09 524.27,169.40 524.45,168.34 524.64,167.09 524.83,169.04 525.01,169.30 525.20,170.00 525.39,168.84 525.57,171.30 525.76,169.06 525.95,169.43 526.14,169.20 526.32,170.61 526.51,168.07 526.70,167.86 526.88,167.92 527.07,167.17 527.26,166.92 527.44,165.88 527.63,168.90 527.82,171.23 528.00,167.77 528.19,169.58 528.38,166.90 528.57,166.55 528.75,167.27 528.94,168.28 529.13,169.21 529.31,165.42 529.50,183.50" fill="none" stroke="#2f55f0" stroke-width="0.9" stroke-linejoin="round" stroke-linecap="round"/>
<polyline points="305.20,34.17 305.39,33.32 305.57,37.42 305.76,31.79 305.95,35.02 306.13,31.12 306.32,37.85 306.51,38.09 306.70,40.98 306.88,37.57 307.07,38.58 307.26,37.34 307.44,35.86 307.63,37.50 307.82,34.75 308.00,35.99 308.19,38.99 308.38,38.55 308.56,37.31 308.75,43.16 308.94,40.13 309.13,37.56 309.31,38.50 309.50,37.22 309.69,37.15 309.87,37.25 310.06,43.03 310.25,40.28 310.43,39.73 310.62,40.77 310.81,44.40 310.99,40.34 311.18,37.99 311.37,44.65 311.56,37.58 311.74,37.76 311.93,40.35 312.12,45.18 312.30,39.15 312.49,33.53 312.68,39.02 312.86,38.14 313.05,38.20 313.24,40.30 313.42,40.50 313.61,40.77 313.80,39.18 313.99,42.79 314.17,44.61 314.36,41.75 314.55,50.00 314.73,41.77 314.92,41.95 315.11,38.41 315.29,38.61 315.48,42.34 315.67,40.93 315.85,39.93 316.04,53.00 316.23,40.71 316.41,40.75 316.60,36.18 316.79,43.45 316.98,42.32 317.16,39.38 317.35,42.85 317.54,42.49 317.72,41.71 317.91,43.95 318.10,47.68 318.28,44.93 318.47,46.49 318.66,48.44 318.84,41.54 319.03,40.36 319.22,43.11 319.41,38.15 319.59,39.91 319.78,44.31 319.97,45.29 320.15,44.57 320.34,38.39 320.53,46.44 320.71,44.96 320.90,44.99 321.09,44.37 321.27,38.87 321.46,37.65 321.65,37.77 321.84,45.36 322.02,41.44 322.21,41.51 322.40,41.53 322.58,43.54 322.77,44.10 322.96,43.76 323.14,40.00 323.33,34.97 323.52,40.40 323.70,42.57 323.89,45.66 324.08,43.57 324.27,41.64 324.45,43.44 324.64,39.38 324.83,39.22 325.01,39.27 325.20,42.42 325.39,47.87 325.57,46.62 325.76,47.11 325.95,45.14 326.13,44.58 326.32,42.65 326.51,42.41 326.70,37.19 326.88,38.34 327.07,38.56 327.26,43.76 327.44,45.19 327.63,46.86 327.82,48.46 328.00,44.58 328.19,46.52 328.38,49.38 328.56,45.69 328.75,47.05 328.94,44.55 329.13,40.22 329.31,42.89 329.50,41.59 329.69,43.39 329.87,42.68 330.06,44.33 330.25,39.04 330.43,47.34 330.62,48.53 330.81,44.87 330.99,42.27 331.18,43.58 331.37,45.67 331.56,45.83 331.74,45.85 331.93,40.19 332.12,40.25 332.30,46.24 332.49,45.71 332.68,41.32 332.86,41.37 333.05,40.03 333.24,40.61 333.42,46.12 333.61,44.70 333.80,47.48 333.99,46.22 334.17,41.70 334.36,42.21 334.55,49.57 334.73,44.73 334.92,42.37 335.11,47.14 335.29,46.04 335.48,45.44 335.67,48.85 335.85,42.19 336.04,45.21 336.23,42.69 336.42,40.98 336.60,41.84 336.79,46.98 336.98,45.64 337.16,41.05 337.35,41.24 337.54,47.79 337.72,48.87 337.91,44.10 338.10,51.07 338.28,46.69 338.47,43.15 338.66,44.53 338.84,47.67 339.03,50.45 339.22,50.02 339.41,46.32 339.59,44.72 339.78,42.00 339.97,44.43 340.15,44.01 340.34,45.93 340.53,42.91 340.71,58.00 340.90,43.08 341.09,42.09 341.27,41.79 341.46,42.11 341.65,41.82 341.84,46.03 342.02,46.36 342.21,63.00 342.40,46.32 342.58,46.95 342.77,50.05 342.96,47.08 343.14,46.02 343.33,44.47 343.52,45.94 343.70,47.36 343.89,47.09 344.08,45.95 344.27,47.57 344.45,46.98 344.64,47.17 344.83,44.34 345.01,46.16 345.20,43.85 345.39,43.42 345.57,45.75 345.76,51.35 345.95,50.59 346.13,47.90 346.32,46.51 346.51,48.90 346.70,50.72 346.88,50.96 347.07,47.60 347.26,47.35 347.44,46.00 347.63,45.64 347.82,44.13 348.00,45.10 348.19,40.77 348.38,41.60 348.56,45.89 348.75,44.08 348.94,47.06 349.13,43.61 349.31,44.67 349.50,46.93 349.69,44.22 349.87,44.07 350.06,51.84 350.25,46.83 350.43,45.03 350.62,44.73 350.81,46.12 350.99,46.47 351.18,49.08 351.37,49.53 351.56,46.76 351.74,45.92 351.93,43.03 352.12,41.83 352.30,43.27 352.49,47.40 352.68,47.35 352.86,49.02 353.05,49.95 353.24,47.57 353.42,52.30 353.61,47.53 353.80,45.61 353.99,45.43 354.17,49.22 354.36,47.43 354.55,45.33 354.73,47.49 354.92,49.96 355.11,47.77 355.29,46.66 355.48,49.56 355.67,50.33 355.85,50.51 356.04,46.39 356.23,47.51 356.42,48.11 356.60,43.03 356.79,48.61 356.98,47.86 357.16,46.52 357.35,52.44 357.54,49.33 357.72,46.12 357.91,46.61 358.10,48.32 358.28,49.54 358.47,47.83 358.66,45.26 358.85,44.77 359.03,44.31 359.22,43.58 359.41,45.86 359.59,45.51 359.78,46.72 359.97,44.99 360.15,44.29 360.34,45.72 360.53,45.83 360.71,49.54 360.90,45.81 361.09,47.23 361.27,47.12 361.46,43.99 361.65,47.88 361.84,47.88 362.02,42.33 362.21,47.00 362.40,49.47 362.58,46.08 362.77,51.01 362.96,48.96 363.14,45.05 363.33,47.88 363.52,46.62 363.70,43.79 363.89,40.82 364.08,45.64 364.27,44.93 364.45,48.07 364.64,48.54 364.83,46.49 365.01,45.75 365.20,51.12 365.39,52.85 365.57,51.13 365.76,47.81 365.95,45.13 366.13,45.65 366.32,50.85 366.51,49.73 366.70,47.51 366.88,44.44 367.07,46.79 367.26,45.05 367.44,46.63 367.63,48.97 367.82,50.59 368.00,48.89 368.19,47.12 368.38,47.90 368.56,52.02 368.75,49.98 368.94,44.93 369.13,50.39 369.31,49.12 369.50,55.17 369.69,37.00 369.87,47.89 370.06,47.04 370.25,48.45 370.43,46.65 370.62,43.89 370.81,41.88 370.99,45.63 371.18,46.03 371.37,46.07 371.56,52.73 371.74,51.87 371.93,52.35 372.12,48.68 372.30,49.40 372.49,48.46 372.68,48.20 372.86,50.48 373.05,50.98 373.24,50.48 373.42,49.98 373.61,45.97 373.80,46.34 373.99,49.25 374.17,48.50 374.36,47.29 374.55,49.68 374.73,47.45 374.92,47.33 375.11,51.13 375.29,49.49 375.48,53.33 375.67,52.51 375.85,52.98 376.04,53.98 376.23,46.35 376.42,48.81 376.60,46.77 376.79,48.12 376.98,49.53 377.16,53.35 377.35,51.61 377.54,55.16 377.72,51.17 377.91,50.97 378.10,51.32 378.28,53.56 378.47,51.98 378.66,50.09 378.85,50.19 379.03,47.67 379.22,53.31 379.41,54.09 379.59,53.64 379.78,53.17 379.97,50.91 380.15,50.66 380.34,53.57 380.53,50.76 380.71,49.84 380.90,55.31 381.09,57.24 381.28,54.88 381.46,54.69 381.65,53.84 381.84,56.60 382.02,53.08 382.21,53.18 382.40,54.24 382.58,56.98 382.77,53.89 382.96,54.03 383.14,52.38 383.33,51.45 383.52,51.19 383.70,52.93 383.89,55.55 384.08,52.68 384.27,51.95 384.45,52.23 384.64,54.21 384.83,55.79 385.01,51.74 385.20,54.29 385.39,52.00 385.57,55.43 385.76,52.66 385.95,51.49 386.13,52.07 386.32,53.93 386.51,52.41 386.70,54.89 386.88,55.69 387.07,55.90 387.26,56.51 387.44,58.27 387.63,55.10 387.82,55.85 388.00,56.13 388.19,51.43 388.38,55.76 388.56,54.57 388.75,54.37 388.94,55.04 389.13,56.68 389.31,57.90 389.50,58.79 389.69,56.35 389.87,58.93 390.06,59.25 390.25,57.50 390.43,57.87 390.62,60.07 390.81,60.04 390.99,60.75 391.18,59.67 391.37,61.86 391.56,65.32 391.74,62.37 391.93,56.48 392.12,62.51 392.30,59.19 392.49,56.16 392.68,52.81 392.86,58.45 393.05,62.12 393.24,63.27 393.42,60.43 393.61,63.92 393.80,61.57 393.99,59.60 394.17,60.59 394.36,61.37 394.55,61.34 394.73,62.25 394.92,56.44 395.11,63.53 395.29,60.96 395.48,63.08 395.67,60.43 395.85,61.90 396.04,61.68 396.23,58.33 396.42,61.96 396.60,63.92 396.79,60.49 396.98,57.02 397.16,59.38 397.35,59.82 397.54,62.35 397.72,63.02 397.91,67.25 398.10,66.51 398.28,64.17 398.47,64.44 398.66,57.31 398.85,59.66 399.03,60.52 399.22,62.86 399.41,64.80 399.59,65.31 399.78,67.31 399.97,64.20 400.15,65.54 400.34,65.01 400.53,65.23 400.71,66.10 400.90,65.01 401.09,65.87 401.28,65.63 401.46,68.14 401.65,66.35 401.84,66.77 402.02,72.47 402.21,69.79 402.40,68.64 402.58,69.65 402.77,65.05 402.96,67.62 403.14,68.66 403.33,68.34 403.52,69.56 403.71,69.59 403.89,70.63 404.08,66.65 404.27,67.89 404.45,66.03 404.64,69.72 404.83,68.41 405.01,64.57 405.20,66.66 405.39,64.78 405.57,68.93 405.76,67.28 405.95,62.32 406.13,64.95 406.32,69.30 406.51,69.22 406.70,66.94 406.88,69.26 407.07,69.96 407.26,72.40 407.44,71.95 407.63,70.56 407.82,67.37 408.00,68.87 408.19,69.49 408.38,69.07 408.56,69.95 408.75,66.47 408.94,69.51 409.13,69.29 409.31,70.09 409.50,69.34 409.69,68.65 409.87,69.79 410.06,71.50 410.25,69.54 410.43,70.46 410.62,68.25 410.81,70.36 410.99,70.22 411.18,67.13 411.37,71.96 411.56,68.81 411.74,70.09 411.93,67.29 412.12,65.37 412.30,70.47 412.49,67.41 412.68,64.80 412.86,68.39 413.05,66.53 413.24,69.16 413.42,74.99 413.61,71.80 413.80,72.55 413.99,73.36 414.17,72.96 414.36,72.01 414.55,75.63 414.73,73.17 414.92,73.42 415.11,73.00 415.29,69.60 415.48,72.29 415.67,72.67 415.85,74.28 416.04,75.01 416.23,77.42 416.42,70.08 416.60,70.77 416.79,71.28 416.98,70.60 417.16,73.47 417.35,73.37 417.54,73.92 417.72,69.97 417.91,70.26 418.10,72.55 418.28,72.51 418.47,72.18 418.66,73.30 418.85,73.38 419.03,71.61 419.22,77.54 419.41,74.11 419.59,76.13 419.78,76.78 419.97,77.96 420.15,74.84 420.34,72.85 420.53,75.67 420.71,76.34 420.90,70.47 421.09,68.32 421.28,72.19 421.46,74.02 421.65,75.05 421.84,77.14 422.02,74.70 422.21,82.53 422.40,81.24 422.58,81.84 422.77,79.72 422.96,73.52 423.14,76.94 423.33,76.38 423.52,78.64 423.71,78.23 423.89,80.05 424.08,77.12 424.27,77.43 424.45,78.52 424.64,77.21 424.83,77.57 425.01,80.34 425.20,84.53 425.39,81.03 425.57,82.37 425.76,78.30 425.95,78.60 426.14,80.67 426.32,82.09 426.51,78.91 426.70,81.75 426.88,81.77 427.07,84.65 427.26,84.88 427.44,84.15 427.63,81.76 427.82,82.59 428.00,80.34 428.19,79.74 428.38,77.22 428.56,77.74 428.75,78.10 428.94,81.10 429.13,82.74 429.31,80.00 429.50,82.10 429.69,84.13 429.87,86.18 430.06,84.59 430.25,84.82 430.43,83.56 430.62,86.27 430.81,81.40 430.99,84.02 431.18,78.95 431.37,86.78 431.56,87.73 431.74,80.96 431.93,82.39 432.12,80.87 432.30,79.57 432.49,82.38 432.68,82.32 432.86,86.90 433.05,84.88 433.24,82.86 433.42,84.64 433.61,86.49 433.80,88.18 433.99,88.09 434.17,83.40 434.36,83.42 434.55,85.00 434.73,84.07 434.92,87.55 435.11,86.27 435.29,86.52 435.48,85.97 435.67,86.83 435.85,83.54 436.04,90.97 436.23,87.33 436.42,85.75 436.60,82.77 436.79,85.80 436.98,83.87 437.16,87.30 437.35,90.62 437.54,90.46 437.72,87.99 437.91,91.23 438.10,88.99 438.28,88.61 438.47,88.80 438.66,87.66 438.85,89.44 439.03,86.24 439.22,83.90 439.41,90.17 439.59,87.87 439.78,88.02 439.97,89.77 440.15,88.54 440.34,86.49 440.53,88.16 440.71,87.04 440.90,90.23 441.09,89.06 441.28,89.15 441.46,91.67 441.65,87.15 441.84,85.76 442.02,90.57 442.21,93.58 442.40,91.92 442.58,89.52 442.77,93.30 442.96,93.02 443.14,94.17 443.33,87.93 443.52,89.79 443.71,88.37 443.89,87.77 444.08,91.58 444.27,93.33 444.45,91.17 444.64,90.99 444.83,94.83 445.01,94.53 445.20,92.66 445.39,93.55 445.57,92.98 445.76,89.60 445.95,90.24 446.14,92.41 446.32,94.02 446.51,90.35 446.70,90.06 446.88,90.53 447.07,88.57 447.26,94.12 447.44,94.60 447.63,96.84 447.82,89.44 448.00,90.15 448.19,96.66 448.38,91.39 448.57,88.62 448.75,92.54 448.94,97.16 449.13,96.64 449.31,92.74 449.50,95.00 449.69,95.52 449.87,95.42 450.06,95.74 450.25,96.94 450.43,98.22 450.62,99.22 450.81,98.90 451.00,96.00 451.18,91.02 451.37,95.00 451.56,91.62 451.74,99.42 451.93,94.11 452.12,90.68 452.30,89.53 452.49,94.48 452.68,96.06 452.86,97.50 453.05,97.21 453.24,94.65 453.42,97.58 453.61,95.10 453.80,92.39 453.99,97.19 454.17,98.05 454.36,94.94 454.55,95.53 454.73,98.82 454.92,99.82 455.11,95.48 455.29,99.18 455.48,91.80 455.67,95.60 455.85,97.69 456.04,97.30 456.23,97.77 456.42,93.93 456.60,96.14 456.79,98.46 456.98,95.96 457.16,97.67 457.35,97.61 457.54,92.72 457.72,94.96 457.91,98.61 458.10,94.90 458.28,97.40 458.47,99.07 458.66,95.90 458.85,97.29 459.03,100.54 459.22,101.33 459.41,97.62 459.59,101.14 459.78,100.82 459.97,100.27 460.15,103.45 460.34,102.82 460.53,101.83 460.71,102.98 460.90,102.77 461.09,104.22 461.28,101.54 461.46,96.76 461.65,103.07 461.84,103.59 462.02,103.20 462.21,102.02 462.40,101.38 462.58,101.70 462.77,99.41 462.96,102.78 463.14,102.42 463.33,99.92 463.52,102.02 463.71,101.45 463.89,102.04 464.08,103.70 464.27,109.46 464.45,102.66 464.64,103.87 464.83,105.09 465.01,104.94 465.20,107.49 465.39,103.94 465.57,103.02 465.76,103.54 465.95,100.60 466.14,105.51 466.32,101.77 466.51,104.79 466.70,107.47 466.88,103.69 467.07,104.02 467.26,104.16 467.44,108.86 467.63,107.14 467.82,101.83 468.00,106.78 468.19,108.51 468.38,102.02 468.57,98.21 468.75,109.53 468.94,107.59 469.13,101.75 469.31,107.34 469.50,110.25 469.69,102.34 469.87,108.34 470.06,109.20 470.25,107.86 470.43,105.86 470.62,107.85 470.81,105.80 471.00,107.48 471.18,107.18 471.37,106.72 471.56,109.02 471.74,110.94 471.93,111.50 472.12,110.74 472.30,113.51 472.49,107.58 472.68,108.76 472.86,109.55 473.05,112.37 473.24,105.18 473.42,107.09 473.61,108.16 473.80,109.84 473.99,115.44 474.17,112.68 474.36,111.03 474.55,111.78 474.73,113.46 474.92,111.40 475.11,115.19 475.29,112.66 475.48,119.65 475.67,122.81 475.85,126.62 476.04,131.28 476.23,130.65 476.42,134.01 476.60,136.83 476.79,137.76 476.98,139.71 477.16,142.38 477.35,147.89 477.54,143.55 477.72,145.57 477.91,150.69 478.10,156.58 478.28,156.46 478.47,160.83 478.66,160.38 478.85,160.27 479.03,158.95 479.22,163.82 479.41,170.37 479.59,169.93 479.78,168.25 479.97,172.71 480.15,168.91 480.34,168.08 480.53,173.13 480.71,173.17 480.90,174.47 481.09,172.99 481.28,171.82 481.46,171.86 481.65,170.98 481.84,172.99 482.02,169.63 482.21,167.38 482.40,168.34 482.58,171.63 482.77,170.27 482.96,166.53 483.14,173.91 483.33,169.84 483.52,169.52 483.71,170.57 483.89,170.42 484.08,169.28 484.27,166.34 484.45,168.71 484.64,166.80 484.83,167.35 485.01,168.98 485.20,167.43 485.39,164.31 485.57,165.09 485.76,167.28 485.95,168.07 486.14,164.73 486.32,165.71 486.51,166.31 486.70,168.01 486.88,167.50 487.07,166.95 487.26,166.00 487.44,167.05 487.63,167.97 487.82,166.74 488.00,166.14 488.19,169.45 488.38,167.59 488.57,165.71 488.75,167.60 488.94,165.02 489.13,164.43 489.31,167.69 489.50,167.34 489.69,168.58 489.87,169.03 490.06,166.61 490.25,167.96 490.43,166.97 490.62,167.68 490.81,168.04 491.00,167.63 491.18,165.47 491.37,167.48 491.56,167.74 491.74,168.75 491.93,166.44 492.12,167.82 492.30,167.58 492.49,167.12 492.68,167.23 492.86,167.29 493.05,165.41 493.24,166.15 493.43,166.55 493.61,168.27 493.80,167.82 493.99,170.33 494.17,169.82 494.36,169.15 494.55,168.74 494.73,165.81 494.92,167.83 495.11,170.06 495.29,166.96 495.48,169.86 495.67,169.66 495.86,169.04 496.04,167.60 496.23,167.86 496.42,166.58 496.60,167.43 496.79,167.85 496.98,168.01 497.16,165.88 497.35,168.79 497.54,167.11 497.72,168.31 497.91,169.06 498.10,167.97 498.28,172.10 498.47,169.59 498.66,169.21 498.85,167.94 499.03,168.48 499.22,165.96 499.41,168.31 499.59,167.42 499.78,166.86 499.97,168.82 500.15,169.76 500.34,167.82 500.53,166.13 500.71,163.85 500.90,164.78 501.09,167.63 501.28,168.87 501.46,166.08 501.65,167.33 501.84,169.46 502.02,167.13 502.21,166.67 502.40,165.91 502.58,167.88 502.77,164.65 502.96,166.51 503.14,168.18 503.33,167.87 503.52,169.48 503.71,169.46 503.89,167.54 504.08,166.04 504.27,165.41 504.45,167.81 504.64,167.59 504.83,167.94 505.01,166.31 505.20,169.24 505.39,169.79 505.57,169.79 505.76,166.61 505.95,171.79 506.14,170.63 506.32,166.96 506.51,169.15 506.70,168.05 506.88,166.56 507.07,166.07 507.26,168.03 507.44,168.40 507.63,168.36 507.82,167.62 508.00,165.99 508.19,167.58 508.38,167.26 508.57,167.25 508.75,168.62 508.94,170.94 509.13,167.82 509.31,169.42 509.50,167.10 509.69,168.95 509.87,169.27 510.06,168.35 510.25,168.36 510.43,166.65 510.62,166.80 510.81,169.03 511.00,169.49 511.18,172.17 511.37,167.59 511.56,166.90 511.74,167.61 511.93,167.79 512.12,166.90 512.30,166.74 512.49,167.21 512.68,169.70 512.86,168.24 513.05,166.63 513.24,167.86 513.43,163.36 513.61,164.73 513.80,165.60 513.99,167.49 514.17,163.78 514.36,165.97 514.55,165.29 514.73,168.51 514.92,169.32 515.11,167.51 515.29,168.42 515.48,165.98 515.67,167.45 515.86,168.04 516.04,169.60 516.23,167.63 516.42,164.04 516.60,167.75 516.79,165.88 516.98,166.13 517.16,166.52 517.35,170.05 517.54,168.42 517.72,169.87 517.91,168.56 518.10,165.62 518.28,167.71 518.47,168.54 518.66,167.01 518.85,164.79 519.03,171.43 519.22,172.56 519.41,170.06 519.59,169.26 519.78,169.79 519.97,169.39 520.15,165.75 520.34,164.64 520.53,167.96 520.71,170.03 520.90,170.26 521.09,169.93 521.28,168.40 521.46,169.51 521.65,170.88 521.84,169.64 522.02,170.43 522.21,170.63 522.40,167.46 522.58,169.53 522.77,166.98 522.96,165.84 523.14,169.69 523.33,165.56 523.52,166.56 523.71,168.75 523.89,168.64 524.08,167.30 524.27,165.91 524.45,167.85 524.64,168.56 524.83,167.78 525.01,166.00 525.20,164.61 525.39,166.51 525.57,167.11 525.76,168.80 525.95,167.47 526.14,169.05 526.32,166.04 526.51,164.12 526.70,167.91 526.88,166.96 527.07,165.92 527.26,166.73 527.44,165.21 527.63,166.14 527.82,164.72 528.00,166.83 528.19,166.30 528.38,167.00 528.57,167.34 528.75,168.20 528.94,164.88 529.13,166.85 529.31,166.84 529.50,162.50" fill="none" stroke="#f22525" stroke-width="0.9" stroke-linejoin="round" stroke-linecap="round"/>
<polyline points="305.20,31.84 305.39,33.82 305.57,37.01 305.76,38.73 305.95,38.56 306.13,35.93 306.32,35.70 306.51,34.34 306.70,31.46 306.88,32.43 307.07,36.05 307.26,35.76 307.44,34.40 307.63,32.27 307.82,33.78 308.00,33.22 308.19,34.48 308.38,35.99 308.56,30.24 308.75,33.27 308.94,31.23 309.13,31.77 309.31,31.30 309.50,36.55 309.69,37.42 309.87,37.37 310.06,34.56 310.25,32.03 310.43,33.60 310.62,35.53 310.81,35.61 310.99,37.41 311.18,35.70 311.37,40.07 311.56,39.02 311.74,41.76 311.93,38.76 312.12,36.66 312.30,34.56 312.49,37.65 312.68,39.32 312.86,37.90 313.05,38.03 313.24,36.56 313.42,35.74 313.61,35.79 313.80,32.22 313.99,32.99 314.17,35.70 314.36,36.89 314.55,39.55 314.73,39.47 314.92,39.01 315.11,38.04 315.29,32.45 315.48,35.82 315.67,34.90 315.85,37.77 316.04,37.04 316.23,36.70 316.41,36.16 316.60,36.58 316.79,32.95 316.98,32.55 317.16,38.87 317.35,39.35 317.54,37.55 317.72,37.17 317.91,37.04 318.10,45.31 318.28,41.99 318.47,39.69 318.66,37.38 318.84,32.74 319.03,36.85 319.22,41.22 319.41,41.75 319.59,40.45 319.78,38.04 319.97,35.91 320.15,38.09 320.34,37.77 320.53,36.02 320.71,41.84 320.90,37.97 321.09,37.56 321.27,33.22 321.46,41.11 321.65,39.64 321.84,39.35 322.02,40.11 322.21,37.82 322.40,37.56 322.58,39.60 322.77,37.79 322.96,39.81 323.14,42.60 323.33,42.57 323.52,44.09 323.70,43.88 323.89,45.36 324.08,42.60 324.27,41.98 324.45,38.32 324.64,56.60 324.83,38.24 325.01,39.45 325.20,37.68 325.39,40.22 325.57,46.32 325.76,40.80 325.95,42.00 326.13,42.56 326.32,39.69 326.51,39.72 326.70,39.24 326.88,41.31 327.07,39.60 327.26,46.47 327.44,44.91 327.63,45.05 327.82,47.45 328.00,46.54 328.19,42.85 328.38,42.68 328.56,41.90 328.75,42.19 328.94,43.94 329.13,37.80 329.31,36.40 329.50,39.04 329.69,41.77 329.87,40.60 330.06,25.30 330.25,66.00 330.43,44.17 330.62,42.45 330.81,41.37 330.99,38.40 331.18,41.90 331.37,42.28 331.56,39.99 331.74,42.54 331.93,41.49 332.12,41.22 332.30,38.15 332.49,67.60 332.68,40.84 332.86,42.57 333.05,43.04 333.24,41.42 333.42,42.03 333.61,41.87 333.80,41.81 333.99,42.83 334.17,41.31 334.36,43.84 334.55,17.30 334.73,40.40 334.92,42.99 335.11,42.06 335.29,43.76 335.48,37.95 335.67,42.10 335.85,37.62 336.04,40.22 336.23,49.52 336.42,46.97 336.60,47.01 336.79,43.00 336.98,40.66 337.16,20.20 337.35,61.00 337.54,43.48 337.72,41.99 337.91,41.05 338.10,41.86 338.28,46.83 338.47,44.90 338.66,43.40 338.84,43.17 339.03,41.52 339.22,40.10 339.41,43.11 339.59,46.95 339.78,46.40 339.97,41.91 340.15,47.04 340.34,46.00 340.53,49.40 340.71,45.96 340.90,42.00 341.09,44.28 341.27,44.23 341.46,42.08 341.65,42.14 341.84,42.97 342.02,42.21 342.21,45.43 342.40,45.87 342.58,44.29 342.77,43.98 342.96,46.79 343.14,46.68 343.33,43.02 343.52,45.10 343.70,49.24 343.89,47.45 344.08,44.18 344.27,48.56 344.45,52.35 344.64,48.31 344.83,41.31 345.01,40.81 345.20,48.38 345.39,46.35 345.57,47.72 345.76,47.87 345.95,47.10 346.13,50.37 346.32,48.14 346.51,48.33 346.70,47.80 346.88,47.50 347.07,52.49 347.26,46.07 347.44,43.60 347.63,48.11 347.82,44.27 348.00,46.25 348.19,44.18 348.38,48.10 348.56,47.27 348.75,48.61 348.94,45.83 349.13,46.23 349.31,41.45 349.50,46.98 349.69,47.95 349.87,47.41 350.06,47.34 350.25,46.35 350.43,46.75 350.62,51.44 350.81,47.34 350.99,46.22 351.18,48.57 351.37,48.37 351.56,46.38 351.74,50.92 351.93,52.60 352.12,48.61 352.30,52.19 352.49,46.07 352.68,50.72 352.86,45.06 353.05,47.73 353.24,47.49 353.42,46.92 353.61,49.05 353.80,46.12 353.99,45.61 354.17,44.59 354.36,50.36 354.55,47.54 354.73,48.79 354.92,47.88 355.11,50.52 355.29,46.65 355.48,45.69 355.67,45.91 355.85,47.92 356.04,46.43 356.23,48.76 356.42,49.80 356.60,51.33 356.79,50.72 356.98,52.52 357.16,49.12 357.35,47.58 357.54,46.63 357.72,46.31 357.91,44.72 358.10,48.18 358.28,48.73 358.47,43.83 358.66,46.73 358.85,46.34 359.03,45.80 359.22,47.09 359.41,50.99 359.59,49.83 359.78,44.55 359.97,48.10 360.15,46.57 360.34,51.89 360.53,48.83 360.71,48.73 360.90,48.41 361.09,46.86 361.27,47.31 361.46,48.17 361.65,53.84 361.84,51.02 362.02,50.96 362.21,50.04 362.40,49.92 362.58,50.25 362.77,52.87 362.96,43.71 363.14,45.87 363.33,46.15 363.52,50.21 363.70,47.80 363.89,51.07 364.08,52.53 364.27,49.27 364.45,50.71 364.64,48.85 364.83,51.23 365.01,51.34 365.20,52.97 365.39,52.70 365.57,48.40 365.76,52.59 365.95,50.80 366.13,52.58 366.32,50.95 366.51,52.36 366.70,47.99 366.88,52.29 367.07,48.48 367.26,49.08 367.44,50.76 367.63,46.79 367.82,49.76 368.00,50.01 368.19,51.93 368.38,50.55 368.56,47.98 368.75,46.89 368.94,47.15 369.13,49.44 369.31,49.55 369.50,51.39 369.69,54.17 369.87,50.99 370.06,49.50 370.25,50.96 370.43,51.63 370.62,45.92 370.81,47.40 370.99,49.60 371.18,51.58 371.37,49.83 371.56,47.98 371.74,54.44 371.93,44.85 372.12,51.88 372.30,49.58 372.49,49.41 372.68,50.21 372.86,51.32 373.05,48.74 373.24,46.86 373.42,50.13 373.61,53.42 373.80,51.08 373.99,56.11 374.17,49.80 374.36,52.40 374.55,52.57 374.73,54.57 374.92,49.75 375.11,52.07 375.29,51.18 375.48,45.93 375.67,48.32 375.85,46.90 376.04,48.90 376.23,51.87 376.42,51.31 376.60,55.59 376.79,54.45 376.98,51.17 377.16,50.63 377.35,52.15 377.54,50.14 377.72,52.42 377.91,53.33 378.10,54.55 378.28,53.24 378.47,52.75 378.66,49.64 378.85,51.72 379.03,51.67 379.22,52.42 379.41,53.25 379.59,51.06 379.78,50.99 379.97,50.29 380.15,49.03 380.34,47.17 380.53,48.26 380.71,52.11 380.90,47.16 381.09,51.78 381.28,53.96 381.46,55.16 381.65,52.79 381.84,51.97 382.02,54.86 382.21,55.21 382.40,57.53 382.58,53.63 382.77,52.20 382.96,55.21 383.14,52.95 383.33,52.73 383.52,55.92 383.70,55.91 383.89,53.25 384.08,54.52 384.27,53.61 384.45,55.81 384.64,54.99 384.83,52.02 385.01,56.87 385.20,54.54 385.39,54.04 385.57,52.36 385.76,53.21 385.95,52.68 386.13,54.66 386.32,55.28 386.51,57.05 386.70,56.79 386.88,53.83 387.07,52.39 387.26,51.67 387.44,55.51 387.63,52.89 387.82,57.21 388.00,55.73 388.19,54.73 388.38,54.92 388.56,58.70 388.75,56.22 388.94,54.31 389.13,52.12 389.31,50.12 389.50,51.54 389.69,56.54 389.87,56.77 390.06,53.83 390.25,48.93 390.43,55.35 390.62,55.92 390.81,50.62 390.99,53.01 391.18,51.89 391.37,56.31 391.56,57.03 391.74,54.33 391.93,49.86 392.12,52.70 392.30,60.27 392.49,58.20 392.68,55.20 392.86,57.52 393.05,55.05 393.24,59.18 393.42,52.92 393.61,53.72 393.80,58.58 393.99,59.42 394.17,58.36 394.36,53.40 394.55,55.13 394.73,57.22 394.92,55.42 395.11,55.88 395.29,58.08 395.48,55.95 395.67,57.31 395.85,56.00 396.04,53.53 396.23,51.86 396.42,53.12 396.60,53.18 396.79,57.58 396.98,57.00 397.16,52.27 397.35,58.44 397.54,62.79 397.72,57.71 397.91,58.30 398.10,56.98 398.28,58.60 398.47,57.67 398.66,58.18 398.85,57.30 399.03,55.60 399.22,55.68 399.41,54.73 399.59,54.72 399.78,55.27 399.97,62.41 400.15,60.82 400.34,62.84 400.53,55.87 400.71,56.25 400.90,59.35 401.09,61.13 401.28,59.98 401.46,57.48 401.65,54.33 401.84,57.14 402.02,53.81 402.21,57.10 402.40,56.45 402.58,55.94 402.77,55.71 402.96,53.75 403.14,53.72 403.33,57.44 403.52,56.36 403.71,55.80 403.89,59.62 404.08,60.25 404.27,59.92 404.45,55.57 404.64,60.07 404.83,60.53 405.01,57.14 405.20,56.94 405.39,60.35 405.57,62.33 405.76,59.46 405.95,56.73 406.13,61.33 406.32,59.06 406.51,61.31 406.70,60.41 406.88,59.72 407.07,58.91 407.26,63.05 407.44,60.29 407.63,60.28 407.82,58.80 408.00,64.40 408.19,61.93 408.38,58.44 408.56,59.57 408.75,56.28 408.94,58.63 409.13,57.20 409.31,62.35 409.50,64.74 409.69,67.72 409.87,62.66 410.06,59.71 410.25,55.89 410.43,59.97 410.62,59.12 410.81,63.65 410.99,67.02 411.18,60.15 411.37,60.79 411.56,65.28 411.74,59.54 411.93,58.18 412.12,62.52 412.30,62.92 412.49,58.06 412.68,61.68 412.86,61.07 413.05,61.73 413.24,62.89 413.42,66.43 413.61,65.73 413.80,61.27 413.99,65.23 414.17,65.07 414.36,64.41 414.55,61.54 414.73,60.08 414.92,61.71 415.11,65.63 415.29,64.73 415.48,63.74 415.67,63.72 415.85,63.79 416.04,62.42 416.23,62.78 416.42,58.47 416.60,61.19 416.79,64.41 416.98,63.95 417.16,66.77 417.35,67.98 417.54,64.06 417.72,60.49 417.91,62.25 418.10,59.72 418.28,63.91 418.47,63.20 418.66,64.91 418.85,63.24 419.03,61.61 419.22,66.43 419.41,64.18 419.59,63.89 419.78,64.06 419.97,62.71 420.15,62.62 420.34,60.26 420.53,62.62 420.71,64.34 420.90,62.07 421.09,59.42 421.28,61.41 421.46,64.77 421.65,66.19 421.84,65.98 422.02,63.18 422.21,65.17 422.40,64.65 422.58,66.83 422.77,66.90 422.96,63.74 423.14,65.34 423.33,65.95 423.52,68.23 423.71,70.90 423.89,64.30 424.08,64.16 424.27,64.17 424.45,64.34 424.64,64.97 424.83,69.71 425.01,69.24 425.20,67.42 425.39,68.36 425.57,67.91 425.76,66.26 425.95,66.93 426.14,68.44 426.32,70.44 426.51,66.32 426.70,67.50 426.88,68.42 427.07,69.01 427.26,67.62 427.44,67.09 427.63,64.32 427.82,64.63 428.00,65.66 428.19,65.86 428.38,68.56 428.56,67.84 428.75,67.40 428.94,66.61 429.13,68.42 429.31,65.61 429.50,71.54 429.69,67.09 429.87,67.26 430.06,68.68 430.25,69.22 430.43,70.54 430.62,65.51 430.81,68.34 430.99,66.67 431.18,72.08 431.37,66.36 431.56,68.74 431.74,71.24 431.93,70.59 432.12,71.03 432.30,70.97 432.49,71.88 432.68,73.63 432.86,72.12 433.05,74.16 433.24,72.42 433.42,73.92 433.61,69.43 433.80,74.38 433.99,73.85 434.17,74.07 434.36,76.56 434.55,71.84 434.73,69.78 434.92,65.45 435.11,72.46 435.29,73.69 435.48,77.72 435.67,74.72 435.85,74.44 436.04,73.56 436.23,73.80 436.42,74.05 436.60,72.20 436.79,71.26 436.98,71.83 437.16,70.37 437.35,75.61 437.54,72.65 437.72,72.85 437.91,73.50 438.10,72.56 438.28,77.00 438.47,76.10 438.66,77.30 438.85,72.30 439.03,72.03 439.22,68.70 439.41,75.29 439.59,73.67 439.78,75.84 439.97,78.05 440.15,72.90 440.34,75.99 440.53,75.00 440.71,75.94 440.90,76.04 441.09,76.87 441.28,75.64 441.46,72.14 441.65,72.49 441.84,74.22 442.02,74.95 442.21,73.10 442.40,73.47 442.58,75.22 442.77,78.31 442.96,76.91 443.14,74.97 443.33,76.16 443.52,73.89 443.71,76.43 443.89,73.15 444.08,77.16 444.27,75.26 444.45,79.04 444.64,77.05 444.83,75.91 445.01,77.03 445.20,76.30 445.39,76.67 445.57,81.39 445.76,80.11 445.95,79.61 446.14,73.49 446.32,79.03 446.51,79.70 446.70,78.09 446.88,75.15 447.07,73.56 447.26,74.41 447.44,76.57 447.63,78.05 447.82,78.83 448.00,79.13 448.19,78.79 448.38,78.02 448.57,75.26 448.75,82.31 448.94,82.11 449.13,82.24 449.31,79.76 449.50,76.10 449.69,81.49 449.87,77.92 450.06,75.37 450.25,79.30 450.43,82.55 450.62,79.60 450.81,79.60 451.00,81.07 451.18,80.42 451.37,79.86 451.56,81.32 451.74,82.01 451.93,79.09 452.12,79.60 452.30,80.56 452.49,82.08 452.68,81.24 452.86,79.35 453.05,79.97 453.24,77.67 453.42,78.77 453.61,81.99 453.80,80.86 453.99,80.98 454.17,81.46 454.36,80.47 454.55,77.68 454.73,77.34 454.92,81.36 455.11,80.17 455.29,76.90 455.48,82.45 455.67,79.82 455.85,76.97 456.04,83.87 456.23,83.01 456.42,81.40 456.60,82.34 456.79,82.62 456.98,79.80 457.16,82.04 457.35,79.61 457.54,78.63 457.72,76.45 457.91,79.52 458.10,85.42 458.28,79.76 458.47,78.84 458.66,81.75 458.85,85.53 459.03,82.23 459.22,82.16 459.41,80.56 459.59,80.21 459.78,83.06 459.97,80.80 460.15,83.35 460.34,84.01 460.53,81.33 460.71,79.17 460.90,80.38 461.09,78.45 461.28,78.72 461.46,80.69 461.65,81.80 461.84,81.53 462.02,77.06 462.21,79.04 462.40,81.86 462.58,84.15 462.77,84.29 462.96,77.71 463.14,77.61 463.33,78.83 463.52,77.90 463.71,76.10 463.89,76.86 464.08,81.18 464.27,80.82 464.45,82.25 464.64,82.73 464.83,86.56 465.01,83.80 465.20,85.13 465.39,82.36 465.57,82.24 465.76,78.62 465.95,79.48 466.14,79.16 466.32,82.88 466.51,81.78 466.70,82.54 466.88,82.66 467.07,83.22 467.26,78.60 467.44,83.37 467.63,79.29 467.82,81.49 468.00,84.12 468.19,82.02 468.38,86.69 468.57,85.80 468.75,83.56 468.94,80.90 469.13,79.17 469.31,82.40 469.50,82.44 469.69,83.24 469.87,84.16 470.06,82.52 470.25,82.69 470.43,84.15 470.62,81.33 470.81,81.51 471.00,81.20 471.18,83.64 471.37,83.14 471.56,85.16 471.74,83.56 471.93,81.50 472.12,83.60 472.30,83.40 472.49,82.29 472.68,84.45 472.86,84.77 473.05,83.11 473.24,84.74 473.42,85.25 473.61,85.63 473.80,86.40 473.99,86.16 474.17,87.86 474.36,88.10 474.55,89.47 474.73,89.15 474.92,89.43 475.11,89.65 475.29,89.71 475.48,90.53 475.67,89.28 475.85,90.23 476.04,92.02 476.23,91.87 476.42,94.89 476.60,96.36 476.79,99.14 476.98,99.62 477.16,96.01 477.35,100.17 477.54,102.53 477.72,101.83 477.91,99.34 478.10,100.19 478.28,102.46 478.47,102.57 478.66,102.09 478.85,101.63 479.03,102.49 479.22,100.06 479.41,100.55 479.59,99.43 479.78,100.44 479.97,96.37 480.15,102.83 480.34,102.36 480.53,105.17 480.71,100.73 480.90,104.04 481.09,104.38 481.28,102.70 481.46,101.13 481.65,100.31 481.84,99.38 482.02,101.97 482.21,104.86 482.40,103.39 482.58,101.98 482.77,99.85 482.96,101.69 483.14,103.96 483.33,102.89 483.52,103.81 483.71,102.21 483.89,98.35 484.08,101.04 484.27,104.75 484.45,100.29 484.64,107.44 484.83,107.90 485.01,103.61 485.20,104.27 485.39,104.35 485.57,105.96 485.76,102.24 485.95,101.55 486.14,100.31 486.32,101.95 486.51,101.66 486.70,101.94 486.88,102.29 487.07,101.41 487.26,106.52 487.44,104.75 487.63,106.04 487.82,105.81 488.00,104.22 488.19,101.76 488.38,101.71 488.57,101.89 488.75,103.49 488.94,106.70 489.13,104.48 489.31,100.90 489.50,102.08 489.69,103.06 489.87,103.93 490.06,99.49 490.25,101.15 490.43,104.64 490.62,106.19 490.81,107.48 491.00,104.31 491.18,102.67 491.37,101.82 491.56,99.82 491.74,99.37 491.93,102.00 492.12,104.24 492.30,101.61 492.49,97.34 492.68,100.77 492.86,99.29 493.05,98.34 493.24,97.49 493.43,98.75 493.61,100.34 493.80,98.59 493.99,98.73 494.17,100.00 494.36,98.57 494.55,97.32 494.73,98.46 494.92,99.60 495.11,98.92 495.29,96.95 495.48,98.04 495.67,98.24 495.86,101.09 496.04,98.31 496.23,99.40 496.42,98.60 496.60,98.94 496.79,101.36 496.98,104.64 497.16,101.49 497.35,100.67 497.54,100.80 497.72,100.34 497.91,98.68 498.10,97.13 498.28,97.64 498.47,99.07 498.66,99.92 498.85,98.74 499.03,96.08 499.22,98.66 499.41,98.57 499.59,98.34 499.78,100.75 499.97,103.40 500.15,101.67 500.34,102.42 500.53,96.78 500.71,101.37 500.90,98.66 501.09,98.61 501.28,101.61 501.46,100.51 501.65,99.83 501.84,104.11 502.02,103.42 502.21,104.05 502.40,103.20 502.58,100.04 502.77,100.69 502.96,97.63 503.14,101.40 503.33,99.82 503.52,99.09 503.71,100.19 503.89,98.54 504.08,100.23 504.27,98.19 504.45,100.57 504.64,98.46 504.83,96.25 505.01,102.61 505.20,102.86 505.39,100.63 505.57,97.87 505.76,98.83 505.95,98.88 506.14,98.33 506.32,100.88 506.51,99.48 506.70,101.89 506.88,100.53 507.07,103.35 507.26,99.24 507.44,99.59 507.63,100.22 507.82,98.12 508.00,98.24 508.19,98.53 508.38,100.76 508.57,100.11 508.75,100.73 508.94,98.27 509.13,99.88 509.31,96.98 509.50,100.15 509.69,97.49 509.87,100.19 510.06,100.12 510.25,98.08 510.43,98.15 510.62,99.63 510.81,98.58 511.00,96.46 511.18,101.71 511.37,100.09 511.56,102.21 511.74,100.38 511.93,95.70 512.12,99.93 512.30,99.73 512.49,99.40 512.68,101.21 512.86,98.72 513.05,100.67 513.24,98.98 513.43,98.21 513.61,97.81 513.80,96.75 513.99,96.70 514.17,96.99 514.36,100.57 514.55,100.97 514.73,100.19 514.92,101.76 515.11,98.75 515.29,99.26 515.48,100.04 515.67,99.12 515.86,99.80 516.04,100.65 516.23,102.10 516.42,98.06 516.60,96.56 516.79,96.83 516.98,96.76 517.16,98.42 517.35,99.24 517.54,99.21 517.72,100.30 517.91,98.82 518.10,98.53 518.28,98.12 518.47,98.14 518.66,100.23 518.85,100.13 519.03,101.39 519.22,99.42 519.41,98.38 519.59,97.30 519.78,96.22 519.97,98.86 520.15,101.10 520.34,98.62 520.53,99.40 520.71,97.79 520.90,98.66 521.09,99.22 521.28,98.57 521.46,98.78 521.65,98.74 521.84,100.75 522.02,98.81 522.21,99.59 522.40,95.71 522.58,99.28 522.77,96.40 522.96,96.62 523.14,99.90 523.33,98.56 523.52,100.45 523.71,97.81 523.89,98.38 524.08,95.55 524.27,98.66 524.45,97.55 524.64,95.82 524.83,98.44 525.01,98.64 525.20,98.13 525.39,97.75 525.57,96.33 525.76,94.88 525.95,96.22 526.14,93.43 526.32,92.56 526.51,93.43 526.70,96.50 526.88,96.74 527.07,95.76 527.26,93.01 527.44,95.17 527.63,97.19 527.82,92.90 528.00,92.41 528.19,93.35 528.38,95.06 528.57,91.28 528.75,93.38 528.94,91.00 529.13,91.32 529.31,91.24 529.50,90.90" fill="none" stroke="#1ea653" stroke-width="0.9" stroke-linejoin="round" stroke-linecap="round"/>
<rect x="472.4" y="18.1" width="45.4" height="39.9" fill="#fff" stroke="#8a8a8a" stroke-width="1"/>
<line x1="478.50" y1="24.80" x2="488.40" y2="24.80" stroke="#2f55f0" stroke-width="1.1"/>
<text x="488.70" y="27.60" font-size="7.9" text-anchor="start" fill="#222" stroke="#222" stroke-width="0.3" textLength="20.6" lengthAdjust="spacingAndGlyphs">600 °C</text>
<line x1="478.50" y1="38.10" x2="488.40" y2="38.10" stroke="#f22525" stroke-width="1.1"/>
<text x="488.70" y="40.90" font-size="7.9" text-anchor="start" fill="#222" stroke="#222" stroke-width="0.3" textLength="20.6" lengthAdjust="spacingAndGlyphs">625 °C</text>
<line x1="478.50" y1="51.30" x2="488.40" y2="51.30" stroke="#1ea653" stroke-width="1.1"/>
<text x="488.70" y="54.10" font-size="7.9" text-anchor="start" fill="#222" stroke="#222" stroke-width="0.3" textLength="20.6" lengthAdjust="spacingAndGlyphs">650 °C</text>
<rect x="49.3" y="226.8" width="207.89999999999998" height="151.39999999999998" fill="none" stroke="#aaa" stroke-width="1"/>
<line x1="94.83" y1="226.80" x2="94.83" y2="378.20" stroke="#e3e3e3" stroke-width="0.8"/>
<line x1="96.29" y1="226.80" x2="96.29" y2="378.20" stroke="#e3e3e3" stroke-width="0.8"/>
<line x1="110.84" y1="226.80" x2="110.84" y2="378.20" stroke="#e3e3e3" stroke-width="0.8"/>
<line x1="147.84" y1="226.80" x2="147.84" y2="378.20" stroke="#e3e3e3" stroke-width="0.8"/>
<line x1="173.00" y1="226.80" x2="173.00" y2="378.20" stroke="#e3e3e3" stroke-width="0.8"/>
<line x1="195.25" y1="226.80" x2="195.25" y2="378.20" stroke="#e3e3e3" stroke-width="0.8"/>
<line x1="218.11" y1="226.80" x2="218.11" y2="378.20" stroke="#e3e3e3" stroke-width="0.8"/>
<line x1="235.58" y1="226.80" x2="235.58" y2="378.20" stroke="#e3e3e3" stroke-width="0.8"/>
<line x1="245.35" y1="226.80" x2="245.35" y2="378.20" stroke="#e3e3e3" stroke-width="0.8"/>
<line x1="49.30" y1="226.80" x2="49.30" y2="378.20" stroke="#999" stroke-width="1.2"/>
<line x1="257.20" y1="226.80" x2="257.20" y2="378.20" stroke="#aaa" stroke-width="1.4"/>
<line x1="49.30" y1="378.20" x2="257.20" y2="378.20" stroke="#888" stroke-width="1.2"/>
<line x1="49.30" y1="375.70" x2="49.30" y2="380.70" stroke="#555" stroke-width="0.9"/>
<text x="49.30" y="392.40" font-size="8.91" text-anchor="middle" fill="#222" stroke="#222" stroke-width="0.3" textLength="9.01" lengthAdjust="spacingAndGlyphs">30</text>
<line x1="53.46" y1="376.70" x2="53.46" y2="379.70" stroke="#777" stroke-width="0.7"/>
<line x1="57.62" y1="376.70" x2="57.62" y2="379.70" stroke="#777" stroke-width="0.7"/>
<line x1="61.77" y1="376.70" x2="61.77" y2="379.70" stroke="#777" stroke-width="0.7"/>
<line x1="65.93" y1="376.70" x2="65.93" y2="379.70" stroke="#777" stroke-width="0.7"/>
<line x1="70.09" y1="375.70" x2="70.09" y2="380.70" stroke="#555" stroke-width="0.9"/>
<text x="70.09" y="392.40" font-size="8.91" text-anchor="middle" fill="#222" stroke="#222" stroke-width="0.3" textLength="9.01" lengthAdjust="spacingAndGlyphs">40</text>
<line x1="74.25" y1="376.70" x2="74.25" y2="379.70" stroke="#777" stroke-width="0.7"/>
<line x1="78.41" y1="376.70" x2="78.41" y2="379.70" stroke="#777" stroke-width="0.7"/>
<line x1="82.56" y1="376.70" x2="82.56" y2="379.70" stroke="#777" stroke-width="0.7"/>
<line x1="86.72" y1="376.70" x2="86.72" y2="379.70" stroke="#777" stroke-width="0.7"/>
<line x1="90.88" y1="375.70" x2="90.88" y2="380.70" stroke="#555" stroke-width="0.9"/>
<text x="90.88" y="392.40" font-size="8.91" text-anchor="middle" fill="#222" stroke="#222" stroke-width="0.3" textLength="9.01" lengthAdjust="spacingAndGlyphs">50</text>
<line x1="95.04" y1="376.70" x2="95.04" y2="379.70" stroke="#777" stroke-width="0.7"/>
<line x1="99.20" y1="376.70" x2="99.20" y2="379.70" stroke="#777" stroke-width="0.7"/>
<line x1="103.35" y1="376.70" x2="103.35" y2="379.70" stroke="#777" stroke-width="0.7"/>
<line x1="107.51" y1="376.70" x2="107.51" y2="379.70" stroke="#777" stroke-width="0.7"/>
<line x1="111.67" y1="375.70" x2="111.67" y2="380.70" stroke="#555" stroke-width="0.9"/>
<text x="111.67" y="392.40" font-size="8.91" text-anchor="middle" fill="#222" stroke="#222" stroke-width="0.3" textLength="9.01" lengthAdjust="spacingAndGlyphs">60</text>
<line x1="115.83" y1="376.70" x2="115.83" y2="379.70" stroke="#777" stroke-width="0.7"/>
<line x1="119.99" y1="376.70" x2="119.99" y2="379.70" stroke="#777" stroke-width="0.7"/>
<line x1="124.14" y1="376.70" x2="124.14" y2="379.70" stroke="#777" stroke-width="0.7"/>
<line x1="128.30" y1="376.70" x2="128.30" y2="379.70" stroke="#777" stroke-width="0.7"/>
<line x1="132.46" y1="375.70" x2="132.46" y2="380.70" stroke="#555" stroke-width="0.9"/>
<text x="132.46" y="392.40" font-size="8.91" text-anchor="middle" fill="#222" stroke="#222" stroke-width="0.3" textLength="9.01" lengthAdjust="spacingAndGlyphs">70</text>
<line x1="136.62" y1="376.70" x2="136.62" y2="379.70" stroke="#777" stroke-width="0.7"/>
<line x1="140.78" y1="376.70" x2="140.78" y2="379.70" stroke="#777" stroke-width="0.7"/>
<line x1="144.93" y1="376.70" x2="144.93" y2="379.70" stroke="#777" stroke-width="0.7"/>
<line x1="149.09" y1="376.70" x2="149.09" y2="379.70" stroke="#777" stroke-width="0.7"/>
<line x1="153.25" y1="375.70" x2="153.25" y2="380.70" stroke="#555" stroke-width="0.9"/>
<text x="153.25" y="392.40" font-size="8.91" text-anchor="middle" fill="#222" stroke="#222" stroke-width="0.3" textLength="9.01" lengthAdjust="spacingAndGlyphs">80</text>
<line x1="157.41" y1="376.70" x2="157.41" y2="379.70" stroke="#777" stroke-width="0.7"/>
<line x1="161.57" y1="376.70" x2="161.57" y2="379.70" stroke="#777" stroke-width="0.7"/>
<line x1="165.72" y1="376.70" x2="165.72" y2="379.70" stroke="#777" stroke-width="0.7"/>
<line x1="169.88" y1="376.70" x2="169.88" y2="379.70" stroke="#777" stroke-width="0.7"/>
<line x1="174.04" y1="375.70" x2="174.04" y2="380.70" stroke="#555" stroke-width="0.9"/>
<text x="174.04" y="392.40" font-size="8.91" text-anchor="middle" fill="#222" stroke="#222" stroke-width="0.3" textLength="9.01" lengthAdjust="spacingAndGlyphs">90</text>
<line x1="178.20" y1="376.70" x2="178.20" y2="379.70" stroke="#777" stroke-width="0.7"/>
<line x1="182.36" y1="376.70" x2="182.36" y2="379.70" stroke="#777" stroke-width="0.7"/>
<line x1="186.51" y1="376.70" x2="186.51" y2="379.70" stroke="#777" stroke-width="0.7"/>
<line x1="190.67" y1="376.70" x2="190.67" y2="379.70" stroke="#777" stroke-width="0.7"/>
<line x1="194.83" y1="375.70" x2="194.83" y2="380.70" stroke="#555" stroke-width="0.9"/>
<text x="194.83" y="392.40" font-size="8.91" text-anchor="middle" fill="#222" stroke="#222" stroke-width="0.3" textLength="13.51" lengthAdjust="spacingAndGlyphs">100</text>
<line x1="198.99" y1="376.70" x2="198.99" y2="379.70" stroke="#777" stroke-width="0.7"/>
<line x1="203.15" y1="376.70" x2="203.15" y2="379.70" stroke="#777" stroke-width="0.7"/>
<line x1="207.30" y1="376.70" x2="207.30" y2="379.70" stroke="#777" stroke-width="0.7"/>
<line x1="211.46" y1="376.70" x2="211.46" y2="379.70" stroke="#777" stroke-width="0.7"/>
<line x1="215.62" y1="375.70" x2="215.62" y2="380.70" stroke="#555" stroke-width="0.9"/>
<text x="215.62" y="392.40" font-size="8.91" text-anchor="middle" fill="#222" stroke="#222" stroke-width="0.3" textLength="12.91" lengthAdjust="spacingAndGlyphs">110</text>
<line x1="219.78" y1="376.70" x2="219.78" y2="379.70" stroke="#777" stroke-width="0.7"/>
<line x1="223.94" y1="376.70" x2="223.94" y2="379.70" stroke="#777" stroke-width="0.7"/>
<line x1="228.09" y1="376.70" x2="228.09" y2="379.70" stroke="#777" stroke-width="0.7"/>
<line x1="232.25" y1="376.70" x2="232.25" y2="379.70" stroke="#777" stroke-width="0.7"/>
<line x1="236.41" y1="375.70" x2="236.41" y2="380.70" stroke="#555" stroke-width="0.9"/>
<text x="236.41" y="392.40" font-size="8.91" text-anchor="middle" fill="#222" stroke="#222" stroke-width="0.3" textLength="13.51" lengthAdjust="spacingAndGlyphs">120</text>
<line x1="240.57" y1="376.70" x2="240.57" y2="379.70" stroke="#777" stroke-width="0.7"/>
<line x1="244.73" y1="376.70" x2="244.73" y2="379.70" stroke="#777" stroke-width="0.7"/>
<line x1="248.88" y1="376.70" x2="248.88" y2="379.70" stroke="#777" stroke-width="0.7"/>
<line x1="253.04" y1="376.70" x2="253.04" y2="379.70" stroke="#777" stroke-width="0.7"/>
<line x1="257.20" y1="375.70" x2="257.20" y2="380.70" stroke="#555" stroke-width="0.9"/>
<text x="257.20" y="392.40" font-size="8.91" text-anchor="middle" fill="#222" stroke="#222" stroke-width="0.3" textLength="13.51" lengthAdjust="spacingAndGlyphs">130</text>
<text x="45.00" y="305.60" font-size="10.6" text-anchor="middle" fill="#222" stroke="#222" stroke-width="0.3" transform="rotate(-90 45.00 305.60)" textLength="64" lengthAdjust="spacingAndGlyphs">Intensity (a. u.)</text>
<text x="156.20" y="407.10" font-size="10.6" text-anchor="middle" fill="#222" stroke="#222" stroke-width="0.3" textLength="43.4" lengthAdjust="spacingAndGlyphs">2Theta (°)</text>
<text x="13.30" y="241.80" font-size="12" text-anchor="start" fill="#111" font-weight="bold" textLength="14.8" lengthAdjust="spacingAndGlyphs">(c)</text>
<polyline points="49.30,280.50 49.60,280.50 49.89,280.50 50.19,280.50 50.49,280.50 50.78,280.50 51.08,280.50 51.38,280.50 51.68,280.50 51.97,280.50 52.27,280.50 52.57,280.50 52.86,280.50 53.16,280.50 53.46,280.50 53.76,280.50 54.05,280.50 54.35,280.50 54.65,280.50 54.94,280.50 55.24,280.50 55.54,280.50 55.83,280.50 56.13,280.50 56.43,280.50 56.72,280.50 57.02,280.50 57.32,280.50 57.62,280.50 57.91,280.50 58.21,280.50 58.51,280.50 58.80,280.50 59.10,280.50 59.40,280.50 59.69,280.50 59.99,280.50 60.29,280.50 60.59,280.50 60.88,280.50 61.18,280.50 61.48,280.50 61.77,280.50 62.07,280.50 62.37,280.50 62.66,280.50 62.96,280.50 63.26,280.50 63.56,280.50 63.85,280.50 64.15,280.50 64.45,280.50 64.74,280.50 65.04,280.50 65.34,280.50 65.63,280.50 65.93,280.50 66.23,280.50 66.53,280.50 66.82,280.50 67.12,280.50 67.42,280.50 67.71,280.50 68.01,280.50 68.31,280.50 68.60,280.50 68.90,280.50 69.20,280.50 69.50,280.50 69.79,280.50 70.09,280.50 70.39,280.50 70.68,280.50 70.98,280.50 71.28,280.50 71.57,280.50 71.87,280.50 72.17,280.50 72.47,280.50 72.76,280.50 73.06,280.50 73.36,280.50 73.65,280.50 73.95,280.50 74.25,280.50 74.54,280.50 74.84,280.50 75.14,280.50 75.44,280.50 75.73,280.50 76.03,280.50 76.33,280.50 76.62,280.50 76.92,280.50 77.22,280.50 77.51,280.50 77.81,280.50 78.11,280.50 78.41,280.50 78.70,280.50 79.00,280.50 79.30,280.50 79.59,280.50 79.89,280.50 80.19,280.50 80.48,280.50 80.78,280.50 81.08,280.50 81.38,280.50 81.67,280.50 81.97,280.50 82.27,280.50 82.56,280.50 82.86,280.50 83.16,280.50 83.45,280.50 83.75,280.50 84.05,280.50 84.35,280.50 84.64,280.50 84.94,280.50 85.24,280.50 85.53,280.50 85.83,280.50 86.13,280.50 86.43,280.50 86.72,280.50 87.02,280.50 87.32,280.50 87.61,280.50 87.91,280.50 88.21,280.50 88.50,280.50 88.80,280.50 89.10,280.50 89.39,280.50 89.69,280.50 89.99,280.50 90.29,280.49 90.58,280.48 90.88,280.43 91.18,280.31 91.47,280.07 91.77,279.69 92.07,279.21 92.36,278.76 92.66,278.51 92.96,278.58 93.26,278.93 93.55,279.40 93.85,279.80 94.15,279.84 94.44,278.88 94.74,275.46 95.04,267.57 95.33,254.74 95.63,240.93 95.93,233.64 96.23,237.72 96.52,250.39 96.82,264.17 97.12,273.67 97.41,278.30 97.71,279.95 98.01,280.40 98.30,280.48 98.60,280.50 98.90,280.50 99.20,280.50 99.49,280.50 99.79,280.50 100.09,280.50 100.38,280.50 100.68,280.50 100.98,280.50 101.27,280.50 101.57,280.50 101.87,280.50 102.17,280.50 102.46,280.50 102.76,280.50 103.06,280.50 103.35,280.50 103.65,280.50 103.95,280.50 104.25,280.50 104.54,280.50 104.84,280.50 105.14,280.50 105.43,280.50 105.73,280.50 106.03,280.50 106.32,280.50 106.62,280.50 106.92,280.50 107.22,280.50 107.51,280.50 107.81,280.50 108.11,280.50 108.40,280.49 108.70,280.48 109.00,280.44 109.29,280.34 109.59,280.15 109.89,279.86 110.18,279.50 110.48,279.17 110.78,279.00 111.08,279.08 111.37,279.35 111.67,279.72 111.97,280.05 112.26,280.28 112.56,280.41 112.86,280.47 113.15,280.49 113.45,280.50 113.75,280.50 114.05,280.50 114.34,280.50 114.64,280.50 114.94,280.50 115.23,280.50 115.53,280.50 115.83,280.50 116.12,280.50 116.42,280.50 116.72,280.50 117.02,280.50 117.31,280.50 117.61,280.50 117.91,280.50 118.20,280.50 118.50,280.50 118.80,280.50 119.09,280.50 119.39,280.50 119.69,280.50 119.99,280.50 120.28,280.50 120.58,280.50 120.88,280.50 121.17,280.50 121.47,280.50 121.77,280.50 122.06,280.50 122.36,280.50 122.66,280.50 122.96,280.50 123.25,280.50 123.55,280.50 123.85,280.50 124.14,280.50 124.44,280.50 124.74,280.50 125.03,280.50 125.33,280.50 125.63,280.50 125.93,280.50 126.22,280.50 126.52,280.50 126.82,280.50 127.11,280.50 127.41,280.50 127.71,280.50 128.00,280.50 128.30,280.50 128.60,280.50 128.90,280.50 129.19,280.50 129.49,280.50 129.79,280.50 130.08,280.50 130.38,280.50 130.68,280.50 130.97,280.50 131.27,280.50 131.57,280.50 131.87,280.50 132.16,280.50 132.46,280.50 132.76,280.50 133.05,280.50 133.35,280.50 133.65,280.50 133.94,280.50 134.24,280.50 134.54,280.50 134.84,280.50 135.13,280.50 135.43,280.50 135.73,280.50 136.02,280.50 136.32,280.50 136.62,280.50 136.91,280.50 137.21,280.50 137.51,280.50 137.81,280.50 138.10,280.50 138.40,280.50 138.70,280.50 138.99,280.50 139.29,280.50 139.59,280.50 139.88,280.50 140.18,280.50 140.48,280.50 140.78,280.50 141.07,280.50 141.37,280.50 141.67,280.50 141.96,280.50 142.26,280.50 142.56,280.50 142.85,280.50 143.15,280.50 143.45,280.50 143.75,280.50 144.04,280.50 144.34,280.50 144.64,280.49 144.93,280.48 145.23,280.44 145.53,280.35 145.82,280.19 146.12,279.92 146.42,279.54 146.72,279.11 147.01,278.74 147.31,278.52 147.61,278.55 147.90,278.80 148.20,279.20 148.50,279.62 148.80,279.98 149.09,280.23 149.39,280.38 149.69,280.45 149.98,280.48 150.28,280.49 150.58,280.50 150.87,280.50 151.17,280.50 151.47,280.50 151.76,280.50 152.06,280.50 152.36,280.50 152.66,280.50 152.95,280.50 153.25,280.50 153.55,280.50 153.84,280.50 154.14,280.50 154.44,280.50 154.74,280.50 155.03,280.50 155.33,280.50 155.63,280.50 155.92,280.50 156.22,280.50 156.52,280.50 156.81,280.50 157.11,280.50 157.41,280.50 157.70,280.50 158.00,280.50 158.30,280.50 158.60,280.50 158.89,280.50 159.19,280.50 159.49,280.50 159.78,280.50 160.08,280.50 160.38,280.50 160.67,280.50 160.97,280.50 161.27,280.50 161.57,280.50 161.86,280.50 162.16,280.50 162.46,280.50 162.75,280.50 163.05,280.50 163.35,280.50 163.64,280.50 163.94,280.50 164.24,280.50 164.54,280.50 164.83,280.50 165.13,280.50 165.43,280.50 165.72,280.50 166.02,280.50 166.32,280.50 166.62,280.50 166.91,280.50 167.21,280.50 167.51,280.50 167.80,280.50 168.10,280.50 168.40,280.50 168.69,280.50 168.99,280.50 169.29,280.50 169.58,280.50 169.88,280.50 170.18,280.50 170.48,280.50 170.77,280.50 171.07,280.50 171.37,280.50 171.66,280.50 171.96,280.50 172.26,280.50 172.55,280.50 172.85,280.50 173.15,280.50 173.45,280.50 173.74,280.50 174.04,280.50 174.34,280.50 174.63,280.50 174.93,280.50 175.23,280.50 175.52,280.50 175.82,280.50 176.12,280.50 176.42,280.50 176.71,280.50 177.01,280.50 177.31,280.50 177.60,280.50 177.90,280.50 178.20,280.50 178.50,280.50 178.79,280.50 179.09,280.50 179.39,280.50 179.68,280.50 179.98,280.50 180.28,280.50 180.57,280.50 180.87,280.50 181.17,280.50 181.46,280.50 181.76,280.50 182.06,280.50 182.36,280.50 182.65,280.50 182.95,280.50 183.25,280.50 183.54,280.50 183.84,280.50 184.14,280.50 184.44,280.50 184.73,280.50 185.03,280.50 185.33,280.50 185.62,280.50 185.92,280.50 186.22,280.50 186.51,280.50 186.81,280.50 187.11,280.50 187.40,280.50 187.70,280.50 188.00,280.50 188.30,280.50 188.59,280.50 188.89,280.50 189.19,280.50 189.48,280.50 189.78,280.50 190.08,280.50 190.38,280.50 190.67,280.50 190.97,280.49 191.27,280.48 191.56,280.44 191.86,280.37 192.16,280.23 192.45,279.98 192.75,279.61 193.05,279.11 193.34,278.54 193.64,278.00 193.94,277.62 194.24,277.50 194.53,277.68 194.83,278.10 195.13,278.65 195.42,279.21 195.72,279.69 196.02,280.04 196.31,280.26 196.61,280.39 196.91,280.45 197.21,280.48 197.50,280.49 197.80,280.50 198.10,280.50 198.39,280.50 198.69,280.50 198.99,280.50 199.28,280.50 199.58,280.50 199.88,280.50 200.18,280.50 200.47,280.50 200.77,280.50 201.07,280.50 201.36,280.50 201.66,280.50 201.96,280.50 202.25,280.50 202.55,280.50 202.85,280.50 203.15,280.50 203.44,280.50 203.74,280.50 204.04,280.50 204.33,280.50 204.63,280.50 204.93,280.50 205.22,280.50 205.52,280.50 205.82,280.50 206.12,280.50 206.41,280.50 206.71,280.50 207.01,280.50 207.30,280.50 207.60,280.50 207.90,280.50 208.19,280.50 208.49,280.50 208.79,280.50 209.09,280.50 209.38,280.50 209.68,280.50 209.98,280.50 210.27,280.50 210.57,280.50 210.87,280.50 211.16,280.50 211.46,280.50 211.76,280.50 212.06,280.50 212.35,280.50 212.65,280.50 212.95,280.50 213.24,280.50 213.54,280.50 213.84,280.50 214.13,280.50 214.43,280.50 214.73,280.50 215.03,280.50 215.32,280.50 215.62,280.50 215.92,280.50 216.21,280.50 216.51,280.50 216.81,280.50 217.10,280.50 217.40,280.50 217.70,280.50 218.00,280.50 218.29,280.50 218.59,280.50 218.89,280.50 219.18,280.50 219.48,280.50 219.78,280.50 220.07,280.50 220.37,280.50 220.67,280.50 220.97,280.50 221.26,280.50 221.56,280.50 221.86,280.50 222.15,280.50 222.45,280.50 222.75,280.50 223.04,280.50 223.34,280.50 223.64,280.50 223.94,280.50 224.23,280.50 224.53,280.50 224.83,280.50 225.12,280.50 225.42,280.50 225.72,280.50 226.01,280.50 226.31,280.50 226.61,280.50 226.91,280.50 227.20,280.50 227.50,280.50 227.80,280.50 228.09,280.50 228.39,280.50 228.69,280.50 228.99,280.50 229.28,280.50 229.58,280.50 229.88,280.50 230.17,280.50 230.47,280.50 230.77,280.50 231.06,280.50 231.36,280.50 231.66,280.50 231.95,280.50 232.25,280.50 232.55,280.50 232.85,280.50 233.14,280.50 233.44,280.50 233.74,280.50 234.03,280.50 234.33,280.50 234.63,280.50 234.93,280.50 235.22,280.50 235.52,280.50 235.82,280.50 236.11,280.50 236.41,280.50 236.71,280.50 237.00,280.50 237.30,280.50 237.60,280.50 237.89,280.50 238.19,280.50 238.49,280.50 238.79,280.50 239.08,280.50 239.38,280.50 239.68,280.50 239.97,280.50 240.27,280.50 240.57,280.50 240.86,280.49 241.16,280.49 241.46,280.47 241.76,280.43 242.05,280.35 242.35,280.22 242.65,280.01 242.94,279.71 243.24,279.32 243.54,278.90 243.83,278.49 244.13,278.17 244.43,278.01 244.73,278.05 245.02,278.28 245.32,278.64 245.62,279.07 245.91,279.49 246.21,279.84 246.51,280.10 246.80,280.28 247.10,280.39 247.40,280.45 247.70,280.48 247.99,280.49 248.29,280.50 248.59,280.50 248.88,280.50 249.18,280.50 249.48,280.50 249.77,280.50 250.07,280.50 250.37,280.50 250.67,280.50 250.96,280.50 251.26,280.50 251.56,280.50 251.85,280.50 252.15,280.50 252.45,280.50 252.75,280.50 253.04,280.50 253.34,280.50 253.64,280.50 253.93,280.50 254.23,280.50 254.53,280.50 254.82,280.50 255.12,280.50 255.42,280.50 255.71,280.50 256.01,280.50 256.31,280.50 256.61,280.50 256.90,280.50 257.20,280.50" fill="none" stroke="#333" stroke-width="1.4" stroke-linejoin="round" stroke-linecap="round"/>
<polyline points="49.30,318.50 49.60,318.50 49.89,318.50 50.19,318.50 50.49,318.50 50.78,318.50 51.08,318.50 51.38,318.50 51.68,318.50 51.97,318.50 52.27,318.50 52.57,318.50 52.86,318.50 53.16,318.50 53.46,318.50 53.76,318.50 54.05,318.50 54.35,318.50 54.65,318.50 54.94,318.50 55.24,318.50 55.54,318.50 55.83,318.50 56.13,318.50 56.43,318.50 56.72,318.50 57.02,318.50 57.32,318.50 57.62,318.50 57.91,318.50 58.21,318.50 58.51,318.50 58.80,318.50 59.10,318.50 59.40,318.50 59.69,318.50 59.99,318.50 60.29,318.50 60.59,318.50 60.88,318.50 61.18,318.50 61.48,318.50 61.77,318.50 62.07,318.50 62.37,318.50 62.66,318.50 62.96,318.50 63.26,318.50 63.56,318.50 63.85,318.50 64.15,318.50 64.45,318.50 64.74,318.50 65.04,318.50 65.34,318.50 65.63,318.50 65.93,318.50 66.23,318.50 66.53,318.50 66.82,318.50 67.12,318.50 67.42,318.50 67.71,318.50 68.01,318.50 68.31,318.50 68.60,318.50 68.90,318.50 69.20,318.50 69.50,318.50 69.79,318.50 70.09,318.50 70.39,318.50 70.68,318.50 70.98,318.50 71.28,318.50 71.57,318.50 71.87,318.50 72.17,318.50 72.47,318.50 72.76,318.50 73.06,318.50 73.36,318.50 73.65,318.50 73.95,318.50 74.25,318.50 74.54,318.50 74.84,318.50 75.14,318.50 75.44,318.50 75.73,318.50 76.03,318.50 76.33,318.50 76.62,318.50 76.92,318.50 77.22,318.50 77.51,318.50 77.81,318.50 78.11,318.50 78.41,318.50 78.70,318.50 79.00,318.50 79.30,318.50 79.59,318.50 79.89,318.50 80.19,318.50 80.48,318.50 80.78,318.50 81.08,318.50 81.38,318.50 81.67,318.50 81.97,318.50 82.27,318.50 82.56,318.50 82.86,318.50 83.16,318.50 83.45,318.50 83.75,318.50 84.05,318.50 84.35,318.50 84.64,318.50 84.94,318.50 85.24,318.50 85.53,318.50 85.83,318.50 86.13,318.50 86.43,318.50 86.72,318.50 87.02,318.50 87.32,318.50 87.61,318.50 87.91,318.50 88.21,318.50 88.50,318.50 88.80,318.50 89.10,318.50 89.39,318.50 89.69,318.50 89.99,318.50 90.29,318.50 90.58,318.50 90.88,318.50 91.18,318.49 91.47,318.42 91.77,317.94 92.07,316.17 92.36,312.65 92.66,309.70 92.96,310.56 93.26,314.19 93.55,317.10 93.85,318.21 94.15,318.35 94.44,317.84 94.74,315.83 95.04,310.45 95.33,300.58 95.63,289.01 95.93,282.62 96.23,286.22 96.52,297.02 96.82,307.94 97.12,314.66 97.41,317.47 97.71,318.29 98.01,318.47 98.30,318.50 98.60,318.50 98.90,318.50 99.20,318.50 99.49,318.50 99.79,318.50 100.09,318.50 100.38,318.50 100.68,318.50 100.98,318.50 101.27,318.50 101.57,318.50 101.87,318.50 102.17,318.50 102.46,318.50 102.76,318.50 103.06,318.50 103.35,318.50 103.65,318.50 103.95,318.50 104.25,318.50 104.54,318.50 104.84,318.50 105.14,318.50 105.43,318.50 105.73,318.50 106.03,318.50 106.32,318.50 106.62,318.50 106.92,318.50 107.22,318.50 107.51,318.50 107.81,318.50 108.11,318.50 108.40,318.49 108.70,318.46 109.00,318.38 109.29,318.18 109.59,317.81 109.89,317.22 110.18,316.50 110.48,315.84 110.78,315.51 111.08,315.66 111.37,316.21 111.67,316.94 111.97,317.60 112.26,318.06 112.56,318.32 112.86,318.44 113.15,318.48 113.45,318.50 113.75,318.50 114.05,318.50 114.34,318.50 114.64,318.50 114.94,318.50 115.23,318.50 115.53,318.50 115.83,318.50 116.12,318.50 116.42,318.50 116.72,318.50 117.02,318.50 117.31,318.50 117.61,318.50 117.91,318.50 118.20,318.50 118.50,318.50 118.80,318.50 119.09,318.50 119.39,318.50 119.69,318.50 119.99,318.50 120.28,318.50 120.58,318.50 120.88,318.50 121.17,318.50 121.47,318.50 121.77,318.50 122.06,318.50 122.36,318.50 122.66,318.50 122.96,318.50 123.25,318.50 123.55,318.50 123.85,318.50 124.14,318.50 124.44,318.50 124.74,318.50 125.03,318.50 125.33,318.50 125.63,318.50 125.93,318.50 126.22,318.50 126.52,318.50 126.82,318.50 127.11,318.50 127.41,318.50 127.71,318.50 128.00,318.50 128.30,318.50 128.60,318.50 128.90,318.50 129.19,318.50 129.49,318.50 129.79,318.50 130.08,318.50 130.38,318.50 130.68,318.50 130.97,318.50 131.27,318.50 131.57,318.50 131.87,318.50 132.16,318.50 132.46,318.50 132.76,318.50 133.05,318.50 133.35,318.50 133.65,318.50 133.94,318.50 134.24,318.50 134.54,318.50 134.84,318.50 135.13,318.50 135.43,318.50 135.73,318.50 136.02,318.50 136.32,318.50 136.62,318.50 136.91,318.50 137.21,318.50 137.51,318.50 137.81,318.50 138.10,318.50 138.40,318.50 138.70,318.50 138.99,318.50 139.29,318.50 139.59,318.50 139.88,318.50 140.18,318.50 140.48,318.50 140.78,318.50 141.07,318.50 141.37,318.50 141.67,318.50 141.96,318.50 142.26,318.50 142.56,318.50 142.85,318.50 143.15,318.50 143.45,318.50 143.75,318.50 144.04,318.50 144.34,318.50 144.64,318.49 144.93,318.48 145.23,318.45 145.53,318.39 145.82,318.27 146.12,318.06 146.42,317.78 146.72,317.46 147.01,317.18 147.31,317.02 147.61,317.03 147.90,317.23 148.20,317.53 148.50,317.84 148.80,318.11 149.09,318.30 149.39,318.41 149.69,318.46 149.98,318.49 150.28,318.50 150.58,318.50 150.87,318.50 151.17,318.50 151.47,318.50 151.76,318.50 152.06,318.50 152.36,318.50 152.66,318.50 152.95,318.50 153.25,318.50 153.55,318.50 153.84,318.50 154.14,318.50 154.44,318.50 154.74,318.50 155.03,318.50 155.33,318.50 155.63,318.50 155.92,318.50 156.22,318.50 156.52,318.50 156.81,318.50 157.11,318.50 157.41,318.50 157.70,318.50 158.00,318.50 158.30,318.50 158.60,318.50 158.89,318.50 159.19,318.50 159.49,318.50 159.78,318.50 160.08,318.50 160.38,318.50 160.67,318.50 160.97,318.50 161.27,318.50 161.57,318.50 161.86,318.50 162.16,318.50 162.46,318.50 162.75,318.50 163.05,318.50 163.35,318.50 163.64,318.50 163.94,318.50 164.24,318.50 164.54,318.50 164.83,318.50 165.13,318.50 165.43,318.50 165.72,318.50 166.02,318.50 166.32,318.50 166.62,318.50 166.91,318.50 167.21,318.50 167.51,318.50 167.80,318.50 168.10,318.50 168.40,318.50 168.69,318.50 168.99,318.50 169.29,318.50 169.58,318.50 169.88,318.49 170.18,318.48 170.48,318.47 170.77,318.44 171.07,318.39 171.37,318.33 171.66,318.24 171.96,318.14 172.26,318.04 172.55,317.95 172.85,317.91 173.15,317.91 173.45,317.95 173.74,318.04 174.04,318.14 174.34,318.24 174.63,318.33 174.93,318.39 175.23,318.44 175.52,318.47 175.82,318.48 176.12,318.49 176.42,318.50 176.71,318.50 177.01,318.50 177.31,318.50 177.60,318.50 177.90,318.50 178.20,318.50 178.50,318.50 178.79,318.50 179.09,318.50 179.39,318.50 179.68,318.50 179.98,318.50 180.28,318.50 180.57,318.50 180.87,318.50 181.17,318.50 181.46,318.50 181.76,318.50 182.06,318.50 182.36,318.50 182.65,318.50 182.95,318.50 183.25,318.50 183.54,318.50 183.84,318.50 184.14,318.50 184.44,318.50 184.73,318.50 185.03,318.50 185.33,318.50 185.62,318.50 185.92,318.50 186.22,318.50 186.51,318.50 186.81,318.50 187.11,318.50 187.40,318.50 187.70,318.50 188.00,318.50 188.30,318.50 188.59,318.50 188.89,318.50 189.19,318.50 189.48,318.50 189.78,318.50 190.08,318.50 190.38,318.50 190.67,318.50 190.97,318.49 191.27,318.49 191.56,318.46 191.86,318.41 192.16,318.32 192.45,318.15 192.75,317.90 193.05,317.57 193.34,317.19 193.64,316.83 193.94,316.58 194.24,316.50 194.53,316.62 194.83,316.90 195.13,317.27 195.42,317.64 195.72,317.96 196.02,318.19 196.31,318.34 196.61,318.43 196.91,318.47 197.21,318.49 197.50,318.50 197.80,318.50 198.10,318.50 198.39,318.50 198.69,318.50 198.99,318.50 199.28,318.50 199.58,318.50 199.88,318.50 200.18,318.50 200.47,318.50 200.77,318.50 201.07,318.50 201.36,318.50 201.66,318.50 201.96,318.50 202.25,318.50 202.55,318.50 202.85,318.50 203.15,318.50 203.44,318.50 203.74,318.50 204.04,318.50 204.33,318.50 204.63,318.50 204.93,318.50 205.22,318.50 205.52,318.50 205.82,318.50 206.12,318.50 206.41,318.50 206.71,318.50 207.01,318.50 207.30,318.50 207.60,318.50 207.90,318.50 208.19,318.50 208.49,318.50 208.79,318.50 209.09,318.50 209.38,318.50 209.68,318.50 209.98,318.50 210.27,318.50 210.57,318.50 210.87,318.50 211.16,318.50 211.46,318.50 211.76,318.50 212.06,318.50 212.35,318.50 212.65,318.50 212.95,318.50 213.24,318.50 213.54,318.50 213.84,318.50 214.13,318.50 214.43,318.50 214.73,318.50 215.03,318.49 215.32,318.47 215.62,318.44 215.92,318.39 216.21,318.31 216.51,318.20 216.81,318.05 217.10,317.88 217.40,317.71 217.70,317.58 218.00,317.51 218.29,317.51 218.59,317.60 218.89,317.74 219.18,317.91 219.48,318.08 219.78,318.22 220.07,318.33 220.37,318.41 220.67,318.45 220.97,318.48 221.26,318.49 221.56,318.50 221.86,318.50 222.15,318.50 222.45,318.50 222.75,318.50 223.04,318.50 223.34,318.50 223.64,318.50 223.94,318.50 224.23,318.50 224.53,318.50 224.83,318.50 225.12,318.50 225.42,318.50 225.72,318.50 226.01,318.50 226.31,318.50 226.61,318.50 226.91,318.50 227.20,318.50 227.50,318.50 227.80,318.50 228.09,318.50 228.39,318.50 228.69,318.50 228.99,318.50 229.28,318.50 229.58,318.50 229.88,318.50 230.17,318.50 230.47,318.50 230.77,318.50 231.06,318.50 231.36,318.50 231.66,318.50 231.95,318.50 232.25,318.50 232.55,318.50 232.85,318.50 233.14,318.50 233.44,318.50 233.74,318.50 234.03,318.50 234.33,318.50 234.63,318.50 234.93,318.50 235.22,318.50 235.52,318.50 235.82,318.50 236.11,318.50 236.41,318.50 236.71,318.50 237.00,318.50 237.30,318.50 237.60,318.50 237.89,318.50 238.19,318.50 238.49,318.50 238.79,318.50 239.08,318.50 239.38,318.50 239.68,318.50 239.97,318.50 240.27,318.50 240.57,318.50 240.86,318.50 241.16,318.49 241.46,318.48 241.76,318.45 242.05,318.39 242.35,318.30 242.65,318.14 242.94,317.93 243.24,317.65 243.54,317.35 243.83,317.05 244.13,316.82 244.43,316.71 244.73,316.74 245.02,316.90 245.32,317.16 245.62,317.47 245.91,317.77 246.21,318.02 246.51,318.21 246.80,318.34 247.10,318.42 247.40,318.46 247.70,318.48 247.99,318.49 248.29,318.50 248.59,318.50 248.88,318.50 249.18,318.50 249.48,318.50 249.77,318.50 250.07,318.50 250.37,318.50 250.67,318.50 250.96,318.50 251.26,318.50 251.56,318.50 251.85,318.50 252.15,318.50 252.45,318.50 252.75,318.50 253.04,318.50 253.34,318.50 253.64,318.50 253.93,318.50 254.23,318.50 254.53,318.50 254.82,318.50 255.12,318.50 255.42,318.50 255.71,318.50 256.01,318.50 256.31,318.50 256.61,318.50 256.90,318.50 257.20,318.50" fill="none" stroke="#2faa63" stroke-width="1.4" stroke-linejoin="round" stroke-linecap="round"/>
<polyline points="49.30,348.40 49.60,348.40 49.89,348.40 50.19,348.40 50.49,348.40 50.78,348.40 51.08,348.40 51.38,348.40 51.68,348.40 51.97,348.40 52.27,348.40 52.57,348.40 52.86,348.40 53.16,348.40 53.46,348.40 53.76,348.40 54.05,348.40 54.35,348.40 54.65,348.40 54.94,348.40 55.24,348.40 55.54,348.40 55.83,348.40 56.13,348.40 56.43,348.40 56.72,348.40 57.02,348.40 57.32,348.40 57.62,348.40 57.91,348.40 58.21,348.40 58.51,348.40 58.80,348.40 59.10,348.40 59.40,348.40 59.69,348.40 59.99,348.40 60.29,348.40 60.59,348.40 60.88,348.40 61.18,348.40 61.48,348.40 61.77,348.40 62.07,348.40 62.37,348.40 62.66,348.40 62.96,348.40 63.26,348.40 63.56,348.40 63.85,348.40 64.15,348.40 64.45,348.40 64.74,348.40 65.04,348.40 65.34,348.40 65.63,348.40 65.93,348.40 66.23,348.40 66.53,348.40 66.82,348.40 67.12,348.40 67.42,348.40 67.71,348.40 68.01,348.40 68.31,348.40 68.60,348.40 68.90,348.40 69.20,348.40 69.50,348.40 69.79,348.40 70.09,348.40 70.39,348.40 70.68,348.40 70.98,348.40 71.28,348.40 71.57,348.40 71.87,348.40 72.17,348.40 72.47,348.40 72.76,348.40 73.06,348.40 73.36,348.40 73.65,348.40 73.95,348.40 74.25,348.40 74.54,348.40 74.84,348.40 75.14,348.40 75.44,348.40 75.73,348.40 76.03,348.40 76.33,348.40 76.62,348.40 76.92,348.40 77.22,348.40 77.51,348.40 77.81,348.40 78.11,348.40 78.41,348.40 78.70,348.40 79.00,348.40 79.30,348.40 79.59,348.40 79.89,348.40 80.19,348.40 80.48,348.40 80.78,348.40 81.08,348.40 81.38,348.40 81.67,348.40 81.97,348.40 82.27,348.40 82.56,348.40 82.86,348.40 83.16,348.40 83.45,348.40 83.75,348.40 84.05,348.40 84.35,348.40 84.64,348.40 84.94,348.40 85.24,348.40 85.53,348.40 85.83,348.40 86.13,348.40 86.43,348.40 86.72,348.40 87.02,348.40 87.32,348.40 87.61,348.40 87.91,348.40 88.21,348.40 88.50,348.40 88.80,348.40 89.10,348.40 89.39,348.40 89.69,348.40 89.99,348.40 90.29,348.40 90.58,348.39 90.88,348.37 91.18,348.30 91.47,348.09 91.77,347.67 92.07,347.03 92.36,346.33 92.66,345.90 92.96,345.96 93.26,346.38 93.55,346.71 93.85,346.42 94.15,345.06 94.44,342.30 94.74,338.05 95.04,332.63 95.33,326.97 95.63,322.46 95.93,320.44 96.23,321.55 96.52,325.43 96.82,330.90 97.12,336.52 97.41,341.22 97.71,344.53 98.01,346.54 98.30,347.61 98.60,348.10 98.90,348.30 99.20,348.37 99.49,348.39 99.79,348.40 100.09,348.40 100.38,348.40 100.68,348.40 100.98,348.40 101.27,348.40 101.57,348.40 101.87,348.40 102.17,348.40 102.46,348.40 102.76,348.40 103.06,348.40 103.35,348.40 103.65,348.40 103.95,348.40 104.25,348.40 104.54,348.40 104.84,348.40 105.14,348.40 105.43,348.40 105.73,348.40 106.03,348.40 106.32,348.40 106.62,348.40 106.92,348.40 107.22,348.40 107.51,348.40 107.81,348.40 108.11,348.40 108.40,348.39 108.70,348.36 109.00,348.31 109.29,348.22 109.59,348.08 109.89,347.88 110.18,347.67 110.48,347.49 110.78,347.40 111.08,347.44 111.37,347.59 111.67,347.79 111.97,348.00 112.26,348.17 112.56,348.28 112.86,348.35 113.15,348.38 113.45,348.39 113.75,348.40 114.05,348.40 114.34,348.40 114.64,348.40 114.94,348.40 115.23,348.40 115.53,348.40 115.83,348.40 116.12,348.40 116.42,348.40 116.72,348.40 117.02,348.40 117.31,348.40 117.61,348.40 117.91,348.40 118.20,348.40 118.50,348.40 118.80,348.40 119.09,348.40 119.39,348.40 119.69,348.40 119.99,348.40 120.28,348.40 120.58,348.40 120.88,348.40 121.17,348.40 121.47,348.40 121.77,348.40 122.06,348.40 122.36,348.40 122.66,348.40 122.96,348.40 123.25,348.40 123.55,348.40 123.85,348.40 124.14,348.40 124.44,348.40 124.74,348.40 125.03,348.40 125.33,348.40 125.63,348.40 125.93,348.40 126.22,348.40 126.52,348.40 126.82,348.40 127.11,348.40 127.41,348.40 127.71,348.40 128.00,348.40 128.30,348.40 128.60,348.40 128.90,348.40 129.19,348.40 129.49,348.40 129.79,348.40 130.08,348.40 130.38,348.40 130.68,348.40 130.97,348.40 131.27,348.40 131.57,348.40 131.87,348.40 132.16,348.40 132.46,348.40 132.76,348.40 133.05,348.40 133.35,348.40 133.65,348.40 133.94,348.40 134.24,348.40 134.54,348.40 134.84,348.40 135.13,348.40 135.43,348.40 135.73,348.40 136.02,348.40 136.32,348.40 136.62,348.40 136.91,348.40 137.21,348.40 137.51,348.40 137.81,348.40 138.10,348.40 138.40,348.40 138.70,348.40 138.99,348.40 139.29,348.40 139.59,348.40 139.88,348.40 140.18,348.40 140.48,348.40 140.78,348.40 141.07,348.40 141.37,348.40 141.67,348.40 141.96,348.40 142.26,348.40 142.56,348.40 142.85,348.40 143.15,348.40 143.45,348.40 143.75,348.40 144.04,348.40 144.34,348.40 144.64,348.40 144.93,348.39 145.23,348.37 145.53,348.33 145.82,348.24 146.12,348.11 146.42,347.92 146.72,347.71 147.01,347.52 147.31,347.41 147.61,347.42 147.90,347.55 148.20,347.75 148.50,347.96 148.80,348.14 149.09,348.26 149.39,348.34 149.69,348.37 149.98,348.39 150.28,348.40 150.58,348.40 150.87,348.40 151.17,348.40 151.47,348.40 151.76,348.40 152.06,348.40 152.36,348.40 152.66,348.40 152.95,348.40 153.25,348.40 153.55,348.40 153.84,348.40 154.14,348.40 154.44,348.40 154.74,348.40 155.03,348.40 155.33,348.40 155.63,348.40 155.92,348.40 156.22,348.40 156.52,348.40 156.81,348.40 157.11,348.40 157.41,348.40 157.70,348.40 158.00,348.40 158.30,348.40 158.60,348.40 158.89,348.40 159.19,348.40 159.49,348.40 159.78,348.40 160.08,348.40 160.38,348.40 160.67,348.40 160.97,348.40 161.27,348.40 161.57,348.40 161.86,348.40 162.16,348.40 162.46,348.40 162.75,348.40 163.05,348.40 163.35,348.40 163.64,348.40 163.94,348.40 164.24,348.40 164.54,348.40 164.83,348.40 165.13,348.40 165.43,348.40 165.72,348.40 166.02,348.40 166.32,348.40 166.62,348.40 166.91,348.40 167.21,348.40 167.51,348.40 167.80,348.40 168.10,348.40 168.40,348.40 168.69,348.40 168.99,348.40 169.29,348.40 169.58,348.40 169.88,348.40 170.18,348.40 170.48,348.40 170.77,348.40 171.07,348.40 171.37,348.40 171.66,348.40 171.96,348.40 172.26,348.40 172.55,348.40 172.85,348.40 173.15,348.40 173.45,348.40 173.74,348.40 174.04,348.40 174.34,348.40 174.63,348.40 174.93,348.40 175.23,348.40 175.52,348.40 175.82,348.40 176.12,348.40 176.42,348.40 176.71,348.40 177.01,348.40 177.31,348.40 177.60,348.40 177.90,348.40 178.20,348.40 178.50,348.40 178.79,348.40 179.09,348.40 179.39,348.40 179.68,348.40 179.98,348.40 180.28,348.40 180.57,348.40 180.87,348.40 181.17,348.40 181.46,348.40 181.76,348.40 182.06,348.40 182.36,348.40 182.65,348.40 182.95,348.40 183.25,348.40 183.54,348.40 183.84,348.40 184.14,348.40 184.44,348.40 184.73,348.40 185.03,348.40 185.33,348.40 185.62,348.40 185.92,348.40 186.22,348.40 186.51,348.40 186.81,348.40 187.11,348.40 187.40,348.40 187.70,348.40 188.00,348.40 188.30,348.40 188.59,348.40 188.89,348.40 189.19,348.40 189.48,348.40 189.78,348.40 190.08,348.39 190.38,348.39 190.67,348.37 190.97,348.35 191.27,348.31 191.56,348.24 191.86,348.14 192.16,348.01 192.45,347.84 192.75,347.64 193.05,347.43 193.34,347.22 193.64,347.05 193.94,346.93 194.24,346.90 194.53,346.95 194.83,347.08 195.13,347.26 195.42,347.47 195.72,347.68 196.02,347.88 196.31,348.04 196.61,348.17 196.91,348.26 197.21,348.32 197.50,348.35 197.80,348.38 198.10,348.39 198.39,348.39 198.69,348.40 198.99,348.40 199.28,348.40 199.58,348.40 199.88,348.40 200.18,348.40 200.47,348.40 200.77,348.40 201.07,348.40 201.36,348.40 201.66,348.40 201.96,348.40 202.25,348.40 202.55,348.40 202.85,348.40 203.15,348.40 203.44,348.40 203.74,348.40 204.04,348.40 204.33,348.40 204.63,348.40 204.93,348.40 205.22,348.40 205.52,348.40 205.82,348.40 206.12,348.40 206.41,348.40 206.71,348.40 207.01,348.40 207.30,348.40 207.60,348.40 207.90,348.40 208.19,348.40 208.49,348.40 208.79,348.40 209.09,348.40 209.38,348.40 209.68,348.40 209.98,348.40 210.27,348.40 210.57,348.40 210.87,348.40 211.16,348.40 211.46,348.40 211.76,348.40 212.06,348.40 212.35,348.40 212.65,348.40 212.95,348.40 213.24,348.40 213.54,348.40 213.84,348.40 214.13,348.40 214.43,348.40 214.73,348.40 215.03,348.40 215.32,348.40 215.62,348.40 215.92,348.40 216.21,348.40 216.51,348.40 216.81,348.40 217.10,348.40 217.40,348.40 217.70,348.40 218.00,348.40 218.29,348.40 218.59,348.40 218.89,348.40 219.18,348.40 219.48,348.40 219.78,348.40 220.07,348.40 220.37,348.40 220.67,348.40 220.97,348.40 221.26,348.40 221.56,348.40 221.86,348.40 222.15,348.40 222.45,348.40 222.75,348.40 223.04,348.40 223.34,348.40 223.64,348.40 223.94,348.40 224.23,348.40 224.53,348.40 224.83,348.40 225.12,348.40 225.42,348.40 225.72,348.40 226.01,348.40 226.31,348.40 226.61,348.40 226.91,348.40 227.20,348.40 227.50,348.40 227.80,348.40 228.09,348.40 228.39,348.40 228.69,348.40 228.99,348.40 229.28,348.40 229.58,348.40 229.88,348.40 230.17,348.40 230.47,348.40 230.77,348.40 231.06,348.40 231.36,348.40 231.66,348.40 231.95,348.40 232.25,348.40 232.55,348.40 232.85,348.40 233.14,348.40 233.44,348.40 233.74,348.40 234.03,348.40 234.33,348.40 234.63,348.40 234.93,348.40 235.22,348.40 235.52,348.40 235.82,348.40 236.11,348.40 236.41,348.40 236.71,348.40 237.00,348.40 237.30,348.40 237.60,348.40 237.89,348.40 238.19,348.40 238.49,348.40 238.79,348.40 239.08,348.40 239.38,348.40 239.68,348.40 239.97,348.40 240.27,348.40 240.57,348.39 240.86,348.38 241.16,348.37 241.46,348.34 241.76,348.30 242.05,348.23 242.35,348.14 242.65,348.01 242.94,347.86 243.24,347.69 243.54,347.52 243.83,347.37 244.13,347.26 244.43,347.20 244.73,347.22 245.02,347.29 245.32,347.42 245.62,347.59 245.91,347.76 246.21,347.92 246.51,348.06 246.80,348.18 247.10,348.26 247.40,348.32 247.70,348.35 247.99,348.38 248.29,348.39 248.59,348.39 248.88,348.40 249.18,348.40 249.48,348.40 249.77,348.40 250.07,348.40 250.37,348.40 250.67,348.40 250.96,348.40 251.26,348.40 251.56,348.40 251.85,348.40 252.15,348.40 252.45,348.40 252.75,348.40 253.04,348.40 253.34,348.40 253.64,348.40 253.93,348.40 254.23,348.40 254.53,348.40 254.82,348.40 255.12,348.40 255.42,348.40 255.71,348.40 256.01,348.40 256.31,348.40 256.61,348.40 256.90,348.40 257.20,348.40" fill="none" stroke="#ee2a2a" stroke-width="1.4" stroke-linejoin="round" stroke-linecap="round"/>
<polyline points="49.30,377.60 49.60,377.60 49.89,377.60 50.19,377.60 50.49,377.60 50.78,377.60 51.08,377.60 51.38,377.60 51.68,377.60 51.97,377.60 52.27,377.60 52.57,377.60 52.86,377.60 53.16,377.60 53.46,377.60 53.76,377.60 54.05,377.60 54.35,377.60 54.65,377.60 54.94,377.60 55.24,377.60 55.54,377.60 55.83,377.60 56.13,377.60 56.43,377.60 56.72,377.60 57.02,377.60 57.32,377.60 57.62,377.60 57.91,377.60 58.21,377.60 58.51,377.60 58.80,377.60 59.10,377.60 59.40,377.60 59.69,377.60 59.99,377.60 60.29,377.60 60.59,377.60 60.88,377.60 61.18,377.60 61.48,377.60 61.77,377.60 62.07,377.60 62.37,377.60 62.66,377.60 62.96,377.60 63.26,377.60 63.56,377.60 63.85,377.60 64.15,377.60 64.45,377.60 64.74,377.60 65.04,377.60 65.34,377.60 65.63,377.60 65.93,377.60 66.23,377.60 66.53,377.60 66.82,377.60 67.12,377.60 67.42,377.60 67.71,377.60 68.01,377.60 68.31,377.60 68.60,377.60 68.90,377.60 69.20,377.60 69.50,377.60 69.79,377.60 70.09,377.60 70.39,377.60 70.68,377.60 70.98,377.60 71.28,377.60 71.57,377.60 71.87,377.60 72.17,377.60 72.47,377.60 72.76,377.60 73.06,377.60 73.36,377.60 73.65,377.60 73.95,377.60 74.25,377.60 74.54,377.60 74.84,377.60 75.14,377.60 75.44,377.60 75.73,377.60 76.03,377.60 76.33,377.60 76.62,377.60 76.92,377.60 77.22,377.60 77.51,377.60 77.81,377.60 78.11,377.60 78.41,377.60 78.70,377.60 79.00,377.60 79.30,377.60 79.59,377.60 79.89,377.60 80.19,377.60 80.48,377.60 80.78,377.60 81.08,377.60 81.38,377.60 81.67,377.60 81.97,377.60 82.27,377.60 82.56,377.60 82.86,377.60 83.16,377.60 83.45,377.60 83.75,377.60 84.05,377.60 84.35,377.60 84.64,377.60 84.94,377.60 85.24,377.60 85.53,377.60 85.83,377.60 86.13,377.60 86.43,377.60 86.72,377.60 87.02,377.60 87.32,377.60 87.61,377.60 87.91,377.60 88.21,377.60 88.50,377.60 88.80,377.60 89.10,377.60 89.39,377.60 89.69,377.60 89.99,377.60 90.29,377.60 90.58,377.60 90.88,377.59 91.18,377.56 91.47,377.48 91.77,377.31 92.07,377.05 92.36,376.77 92.66,376.61 92.96,376.65 93.26,376.88 93.55,377.16 93.85,377.38 94.15,377.46 94.44,377.21 94.74,375.91 95.04,372.06 95.33,364.44 95.63,355.04 95.93,349.70 96.23,352.72 96.52,361.59 96.82,370.17 97.12,375.11 97.41,377.00 97.71,377.50 98.01,377.59 98.30,377.60 98.60,377.60 98.90,377.60 99.20,377.60 99.49,377.60 99.79,377.60 100.09,377.60 100.38,377.60 100.68,377.60 100.98,377.60 101.27,377.60 101.57,377.60 101.87,377.60 102.17,377.60 102.46,377.60 102.76,377.60 103.06,377.60 103.35,377.60 103.65,377.60 103.95,377.60 104.25,377.60 104.54,377.60 104.84,377.60 105.14,377.60 105.43,377.60 105.73,377.60 106.03,377.60 106.32,377.60 106.62,377.60 106.92,377.60 107.22,377.60 107.51,377.60 107.81,377.60 108.11,377.60 108.40,377.59 108.70,377.57 109.00,377.53 109.29,377.46 109.59,377.34 109.89,377.18 110.18,377.01 110.48,376.87 110.78,376.80 111.08,376.83 111.37,376.95 111.67,377.11 111.97,377.28 112.26,377.42 112.56,377.51 112.86,377.56 113.15,377.58 113.45,377.59 113.75,377.60 114.05,377.60 114.34,377.60 114.64,377.60 114.94,377.60 115.23,377.60 115.53,377.60 115.83,377.60 116.12,377.60 116.42,377.60 116.72,377.60 117.02,377.60 117.31,377.60 117.61,377.60 117.91,377.60 118.20,377.60 118.50,377.60 118.80,377.60 119.09,377.60 119.39,377.60 119.69,377.60 119.99,377.60 120.28,377.60 120.58,377.60 120.88,377.60 121.17,377.60 121.47,377.60 121.77,377.60 122.06,377.60 122.36,377.60 122.66,377.60 122.96,377.60 123.25,377.60 123.55,377.60 123.85,377.60 124.14,377.60 124.44,377.60 124.74,377.60 125.03,377.60 125.33,377.60 125.63,377.60 125.93,377.60 126.22,377.60 126.52,377.60 126.82,377.60 127.11,377.60 127.41,377.60 127.71,377.60 128.00,377.60 128.30,377.60 128.60,377.60 128.90,377.60 129.19,377.60 129.49,377.60 129.79,377.60 130.08,377.60 130.38,377.60 130.68,377.60 130.97,377.60 131.27,377.60 131.57,377.60 131.87,377.60 132.16,377.60 132.46,377.60 132.76,377.60 133.05,377.60 133.35,377.60 133.65,377.60 133.94,377.60 134.24,377.60 134.54,377.60 134.84,377.60 135.13,377.60 135.43,377.60 135.73,377.60 136.02,377.60 136.32,377.60 136.62,377.60 136.91,377.60 137.21,377.60 137.51,377.60 137.81,377.60 138.10,377.60 138.40,377.60 138.70,377.60 138.99,377.60 139.29,377.60 139.59,377.60 139.88,377.60 140.18,377.60 140.48,377.60 140.78,377.60 141.07,377.60 141.37,377.60 141.67,377.60 141.96,377.60 142.26,377.60 142.56,377.60 142.85,377.60 143.15,377.60 143.45,377.60 143.75,377.60 144.04,377.60 144.34,377.59 144.64,377.58 144.93,377.54 145.23,377.47 145.53,377.35 145.82,377.14 146.12,376.85 146.42,376.48 146.72,376.10 147.01,375.79 147.31,375.62 147.61,375.64 147.90,375.84 148.20,376.18 148.50,376.56 148.80,376.91 149.09,377.19 149.39,377.38 149.69,377.49 149.98,377.55 150.28,377.58 150.58,377.59 150.87,377.60 151.17,377.60 151.47,377.60 151.76,377.60 152.06,377.60 152.36,377.60 152.66,377.60 152.95,377.60 153.25,377.60 153.55,377.60 153.84,377.60 154.14,377.60 154.44,377.60 154.74,377.60 155.03,377.60 155.33,377.60 155.63,377.60 155.92,377.60 156.22,377.60 156.52,377.60 156.81,377.60 157.11,377.60 157.41,377.60 157.70,377.60 158.00,377.60 158.30,377.60 158.60,377.60 158.89,377.60 159.19,377.60 159.49,377.60 159.78,377.60 160.08,377.60 160.38,377.60 160.67,377.60 160.97,377.60 161.27,377.60 161.57,377.60 161.86,377.60 162.16,377.60 162.46,377.60 162.75,377.60 163.05,377.60 163.35,377.60 163.64,377.60 163.94,377.60 164.24,377.60 164.54,377.60 164.83,377.60 165.13,377.60 165.43,377.60 165.72,377.60 166.02,377.60 166.32,377.60 166.62,377.60 166.91,377.60 167.21,377.60 167.51,377.60 167.80,377.60 168.10,377.60 168.40,377.60 168.69,377.60 168.99,377.60 169.29,377.60 169.58,377.60 169.88,377.60 170.18,377.60 170.48,377.60 170.77,377.60 171.07,377.60 171.37,377.60 171.66,377.60 171.96,377.60 172.26,377.60 172.55,377.60 172.85,377.60 173.15,377.60 173.45,377.60 173.74,377.60 174.04,377.60 174.34,377.60 174.63,377.60 174.93,377.60 175.23,377.60 175.52,377.60 175.82,377.60 176.12,377.60 176.42,377.60 176.71,377.60 177.01,377.60 177.31,377.60 177.60,377.60 177.90,377.60 178.20,377.60 178.50,377.60 178.79,377.60 179.09,377.60 179.39,377.60 179.68,377.60 179.98,377.60 180.28,377.60 180.57,377.60 180.87,377.60 181.17,377.60 181.46,377.60 181.76,377.60 182.06,377.60 182.36,377.60 182.65,377.60 182.95,377.60 183.25,377.60 183.54,377.60 183.84,377.60 184.14,377.60 184.44,377.60 184.73,377.60 185.03,377.60 185.33,377.60 185.62,377.60 185.92,377.60 186.22,377.60 186.51,377.60 186.81,377.60 187.11,377.60 187.40,377.60 187.70,377.60 188.00,377.60 188.30,377.60 188.59,377.60 188.89,377.60 189.19,377.60 189.48,377.60 189.78,377.60 190.08,377.60 190.38,377.60 190.67,377.60 190.97,377.59 191.27,377.57 191.56,377.54 191.86,377.45 192.16,377.28 192.45,376.99 192.75,376.56 193.05,375.97 193.34,375.31 193.64,374.68 193.94,374.24 194.24,374.10 194.53,374.31 194.83,374.80 195.13,375.44 195.42,376.10 195.72,376.66 196.02,377.06 196.31,377.32 196.61,377.47 196.91,377.55 197.21,377.58 197.50,377.59 197.80,377.60 198.10,377.60 198.39,377.60 198.69,377.60 198.99,377.60 199.28,377.60 199.58,377.60 199.88,377.60 200.18,377.60 200.47,377.60 200.77,377.60 201.07,377.60 201.36,377.60 201.66,377.60 201.96,377.60 202.25,377.60 202.55,377.60 202.85,377.60 203.15,377.60 203.44,377.60 203.74,377.60 204.04,377.60 204.33,377.60 204.63,377.60 204.93,377.60 205.22,377.60 205.52,377.60 205.82,377.60 206.12,377.60 206.41,377.60 206.71,377.60 207.01,377.60 207.30,377.60 207.60,377.60 207.90,377.60 208.19,377.60 208.49,377.60 208.79,377.60 209.09,377.60 209.38,377.60 209.68,377.60 209.98,377.60 210.27,377.60 210.57,377.60 210.87,377.60 211.16,377.60 211.46,377.60 211.76,377.60 212.06,377.60 212.35,377.60 212.65,377.60 212.95,377.60 213.24,377.60 213.54,377.60 213.84,377.60 214.13,377.60 214.43,377.60 214.73,377.60 215.03,377.60 215.32,377.60 215.62,377.60 215.92,377.60 216.21,377.60 216.51,377.60 216.81,377.60 217.10,377.60 217.40,377.60 217.70,377.60 218.00,377.60 218.29,377.60 218.59,377.60 218.89,377.60 219.18,377.60 219.48,377.60 219.78,377.60 220.07,377.60 220.37,377.60 220.67,377.60 220.97,377.60 221.26,377.60 221.56,377.60 221.86,377.60 222.15,377.60 222.45,377.60 222.75,377.60 223.04,377.60 223.34,377.60 223.64,377.60 223.94,377.60 224.23,377.60 224.53,377.60 224.83,377.60 225.12,377.60 225.42,377.60 225.72,377.60 226.01,377.60 226.31,377.60 226.61,377.60 226.91,377.60 227.20,377.60 227.50,377.60 227.80,377.60 228.09,377.60 228.39,377.60 228.69,377.60 228.99,377.60 229.28,377.60 229.58,377.60 229.88,377.60 230.17,377.60 230.47,377.60 230.77,377.60 231.06,377.60 231.36,377.60 231.66,377.60 231.95,377.60 232.25,377.60 232.55,377.60 232.85,377.60 233.14,377.60 233.44,377.60 233.74,377.60 234.03,377.60 234.33,377.60 234.63,377.60 234.93,377.60 235.22,377.60 235.52,377.60 235.82,377.60 236.11,377.60 236.41,377.60 236.71,377.60 237.00,377.60 237.30,377.60 237.60,377.60 237.89,377.60 238.19,377.60 238.49,377.60 238.79,377.60 239.08,377.60 239.38,377.60 239.68,377.60 239.97,377.60 240.27,377.60 240.57,377.60 240.86,377.60 241.16,377.59 241.46,377.57 241.76,377.54 242.05,377.48 242.35,377.37 242.65,377.20 242.94,376.96 243.24,376.66 243.54,376.32 243.83,375.99 244.13,375.73 244.43,375.61 244.73,375.64 245.02,375.82 245.32,376.11 245.62,376.46 245.91,376.79 246.21,377.07 246.51,377.28 246.80,377.42 247.10,377.51 247.40,377.56 247.70,377.58 247.99,377.59 248.29,377.60 248.59,377.60 248.88,377.60 249.18,377.60 249.48,377.60 249.77,377.60 250.07,377.60 250.37,377.60 250.67,377.60 250.96,377.60 251.26,377.60 251.56,377.60 251.85,377.60 252.15,377.60 252.45,377.60 252.75,377.60 253.04,377.60 253.34,377.60 253.64,377.60 253.93,377.60 254.23,377.60 254.53,377.60 254.82,377.60 255.12,377.60 255.42,377.60 255.71,377.60 256.01,377.60 256.31,377.60 256.61,377.60 256.90,377.60 257.20,377.60" fill="none" stroke="#2f44e6" stroke-width="1.4" stroke-linejoin="round" stroke-linecap="round"/>
<text x="54.00" y="278.50" font-size="7.0" text-anchor="start" fill="#333" stroke="#333" stroke-width="0.25" font-weight="bold" textLength="20.6" lengthAdjust="spacingAndGlyphs">700 °C</text>
<text x="52.90" y="315.60" font-size="7.0" text-anchor="start" fill="#2faa63" stroke="#2faa63" stroke-width="0.25" font-weight="bold" textLength="20.6" lengthAdjust="spacingAndGlyphs">650 °C</text>
<text x="52.90" y="345.70" font-size="7.0" text-anchor="start" fill="#ee2a2a" stroke="#ee2a2a" stroke-width="0.25" font-weight="bold" textLength="20.6" lengthAdjust="spacingAndGlyphs">625 °C</text>
<text x="52.90" y="374.10" font-size="7.0" text-anchor="start" fill="#2f44e6" stroke="#2f44e6" stroke-width="0.25" font-weight="bold" textLength="20.6" lengthAdjust="spacingAndGlyphs">600 °C</text>
<text x="92.80" y="273.70" font-size="7.0" text-anchor="start" fill="#333" stroke="#333" stroke-width="0.25" font-weight="bold" transform="rotate(-90 92.80 273.70)" textLength="21" lengthAdjust="spacingAndGlyphs">A (111)</text>
<text x="103.30" y="257.00" font-size="7.0" text-anchor="start" fill="#ee2a2a" stroke="#ee2a2a" stroke-width="0.25" font-weight="bold" transform="rotate(-90 103.30 257.00)" textLength="22.8" lengthAdjust="spacingAndGlyphs">M (110)</text>
<text x="117.50" y="278.00" font-size="7.0" text-anchor="start" fill="#333" stroke="#333" stroke-width="0.25" font-weight="bold" transform="rotate(-90 117.50 278.00)" textLength="21" lengthAdjust="spacingAndGlyphs">A (200)</text>
<text x="146.30" y="276.40" font-size="7.0" text-anchor="start" fill="#ee2a2a" stroke="#ee2a2a" stroke-width="0.25" font-weight="bold" transform="rotate(-90 146.30 276.40)" textLength="22.8" lengthAdjust="spacingAndGlyphs">M (200)</text>
<text x="170.90" y="278.00" font-size="7.0" text-anchor="start" fill="#333" stroke="#333" stroke-width="0.25" font-weight="bold" transform="rotate(-90 170.90 278.00)" textLength="21" lengthAdjust="spacingAndGlyphs">A (220)</text>
<text x="194.00" y="276.40" font-size="7.0" text-anchor="start" fill="#ee2a2a" stroke="#ee2a2a" stroke-width="0.25" font-weight="bold" transform="rotate(-90 194.00 276.40)" textLength="22.8" lengthAdjust="spacingAndGlyphs">M (211)</text>
<text x="216.40" y="278.00" font-size="7.0" text-anchor="start" fill="#333" stroke="#333" stroke-width="0.25" font-weight="bold" transform="rotate(-90 216.40 278.00)" textLength="21" lengthAdjust="spacingAndGlyphs">A (311)</text>
<text x="232.00" y="278.00" font-size="7.0" text-anchor="start" fill="#333" stroke="#333" stroke-width="0.25" font-weight="bold" transform="rotate(-90 232.00 278.00)" textLength="21" lengthAdjust="spacingAndGlyphs">A (222)</text>
<text x="243.60" y="276.40" font-size="7.0" text-anchor="start" fill="#ee2a2a" stroke="#ee2a2a" stroke-width="0.25" font-weight="bold" transform="rotate(-90 243.60 276.40)" textLength="22.8" lengthAdjust="spacingAndGlyphs">M (220)</text>
<line x1="318.2" y1="229.7" x2="511.3" y2="229.7" stroke="#bbb" stroke-width="1"/>
<line x1="318.20" y1="229.70" x2="318.20" y2="378.20" stroke="#777" stroke-width="1"/>
<line x1="511.30" y1="229.70" x2="511.30" y2="378.20" stroke="#777" stroke-width="1"/>
<line x1="318.20" y1="378.20" x2="511.30" y2="378.20" stroke="#777" stroke-width="1"/>
<line x1="315.20" y1="378.20" x2="318.20" y2="378.20" stroke="#666" stroke-width="1"/>
<text x="310.40" y="381.10" font-size="8.36" text-anchor="end" fill="#222" stroke="#222" stroke-width="0.3" textLength="4.23" lengthAdjust="spacingAndGlyphs">0</text>
<line x1="511.30" y1="378.20" x2="514.30" y2="378.20" stroke="#666" stroke-width="1"/>
<text x="518.10" y="381.10" font-size="8.36" text-anchor="start" fill="#222" stroke="#222" stroke-width="0.3" textLength="12.68" lengthAdjust="spacingAndGlyphs">300</text>
<line x1="315.20" y1="353.45" x2="318.20" y2="353.45" stroke="#666" stroke-width="1"/>
<text x="310.40" y="356.35" font-size="8.36" text-anchor="end" fill="#222" stroke="#222" stroke-width="0.3" textLength="4.23" lengthAdjust="spacingAndGlyphs">5</text>
<line x1="511.30" y1="353.45" x2="514.30" y2="353.45" stroke="#666" stroke-width="1"/>
<text x="518.10" y="356.35" font-size="8.36" text-anchor="start" fill="#222" stroke="#222" stroke-width="0.3" textLength="12.68" lengthAdjust="spacingAndGlyphs">350</text>
<line x1="315.20" y1="328.70" x2="318.20" y2="328.70" stroke="#666" stroke-width="1"/>
<text x="310.40" y="331.60" font-size="8.36" text-anchor="end" fill="#222" stroke="#222" stroke-width="0.3" textLength="8.45" lengthAdjust="spacingAndGlyphs">10</text>
<line x1="511.30" y1="328.70" x2="514.30" y2="328.70" stroke="#666" stroke-width="1"/>
<text x="518.10" y="331.60" font-size="8.36" text-anchor="start" fill="#222" stroke="#222" stroke-width="0.3" textLength="12.68" lengthAdjust="spacingAndGlyphs">400</text>
<line x1="315.20" y1="303.95" x2="318.20" y2="303.95" stroke="#666" stroke-width="1"/>
<text x="310.40" y="306.85" font-size="8.36" text-anchor="end" fill="#222" stroke="#222" stroke-width="0.3" textLength="8.45" lengthAdjust="spacingAndGlyphs">15</text>
<line x1="511.30" y1="303.95" x2="514.30" y2="303.95" stroke="#666" stroke-width="1"/>
<text x="518.10" y="306.85" font-size="8.36" text-anchor="start" fill="#222" stroke="#222" stroke-width="0.3" textLength="12.68" lengthAdjust="spacingAndGlyphs">450</text>
<line x1="315.20" y1="279.20" x2="318.20" y2="279.20" stroke="#666" stroke-width="1"/>
<text x="310.40" y="282.10" font-size="8.36" text-anchor="end" fill="#222" stroke="#222" stroke-width="0.3" textLength="8.45" lengthAdjust="spacingAndGlyphs">20</text>
<line x1="511.30" y1="279.20" x2="514.30" y2="279.20" stroke="#666" stroke-width="1"/>
<text x="518.10" y="282.10" font-size="8.36" text-anchor="start" fill="#222" stroke="#222" stroke-width="0.3" textLength="12.68" lengthAdjust="spacingAndGlyphs">500</text>
<line x1="315.20" y1="254.45" x2="318.20" y2="254.45" stroke="#666" stroke-width="1"/>
<text x="310.40" y="257.35" font-size="8.36" text-anchor="end" fill="#222" stroke="#222" stroke-width="0.3" textLength="8.45" lengthAdjust="spacingAndGlyphs">25</text>
<line x1="511.30" y1="254.45" x2="514.30" y2="254.45" stroke="#666" stroke-width="1"/>
<text x="518.10" y="257.35" font-size="8.36" text-anchor="start" fill="#222" stroke="#222" stroke-width="0.3" textLength="12.68" lengthAdjust="spacingAndGlyphs">550</text>
<line x1="315.20" y1="229.70" x2="318.20" y2="229.70" stroke="#666" stroke-width="1"/>
<text x="310.40" y="232.60" font-size="8.36" text-anchor="end" fill="#222" stroke="#222" stroke-width="0.3" textLength="8.45" lengthAdjust="spacingAndGlyphs">30</text>
<line x1="511.30" y1="229.70" x2="514.30" y2="229.70" stroke="#666" stroke-width="1"/>
<text x="518.10" y="232.60" font-size="8.36" text-anchor="start" fill="#222" stroke="#222" stroke-width="0.3" textLength="12.68" lengthAdjust="spacingAndGlyphs">600</text>
<line x1="318.20" y1="378.20" x2="318.20" y2="381.20" stroke="#666" stroke-width="1"/>
<line x1="366.48" y1="378.20" x2="366.48" y2="381.20" stroke="#666" stroke-width="1"/>
<line x1="414.75" y1="378.20" x2="414.75" y2="381.20" stroke="#666" stroke-width="1"/>
<line x1="463.02" y1="378.20" x2="463.02" y2="381.20" stroke="#666" stroke-width="1"/>
<line x1="511.30" y1="378.20" x2="511.30" y2="381.20" stroke="#666" stroke-width="1"/>
<rect x="330.89" y="337.12" width="22.9" height="41.08" fill="#f4b183" stroke="#8a7566" stroke-width="0.8"/>
<text x="342.34" y="392.30" font-size="8.36" text-anchor="middle" fill="#222" stroke="#222" stroke-width="0.3" textLength="12.68" lengthAdjust="spacingAndGlyphs">600</text>
<rect x="379.16" y="309.89" width="22.9" height="68.31" fill="#f4b183" stroke="#8a7566" stroke-width="0.8"/>
<text x="390.61" y="392.30" font-size="8.36" text-anchor="middle" fill="#222" stroke="#222" stroke-width="0.3" textLength="12.68" lengthAdjust="spacingAndGlyphs">625</text>
<rect x="427.44" y="237.12" width="22.9" height="141.07" fill="#f4b183" stroke="#8a7566" stroke-width="0.8"/>
<text x="438.89" y="392.30" font-size="8.36" text-anchor="middle" fill="#222" stroke="#222" stroke-width="0.3" textLength="12.68" lengthAdjust="spacingAndGlyphs">650</text>
<rect x="475.71" y="321.77" width="22.9" height="56.43" fill="#f4b183" stroke="#8a7566" stroke-width="0.8"/>
<text x="487.16" y="392.30" font-size="8.36" text-anchor="middle" fill="#222" stroke="#222" stroke-width="0.3" textLength="12.68" lengthAdjust="spacingAndGlyphs">700</text>
<polyline points="342.34,313.36 390.61,325.24 438.89,330.68 487.16,261.38" fill="none" stroke="#222" stroke-width="1.3" stroke-linejoin="round" stroke-linecap="round"/>
<line x1="342.34" y1="306.75" x2="342.34" y2="319.96" stroke="#777" stroke-width="0.8"/>
<line x1="341.04" y1="306.75" x2="343.64" y2="306.75" stroke="#888" stroke-width="0.7"/>
<line x1="341.04" y1="319.96" x2="343.64" y2="319.96" stroke="#888" stroke-width="0.7"/>
<circle cx="342.34" cy="313.36" r="2" fill="#fff" stroke="#333" stroke-width="0.8"/>
<line x1="390.61" y1="318.44" x2="390.61" y2="332.04" stroke="#777" stroke-width="0.8"/>
<line x1="389.31" y1="318.44" x2="391.91" y2="318.44" stroke="#888" stroke-width="0.7"/>
<line x1="389.31" y1="332.04" x2="391.91" y2="332.04" stroke="#888" stroke-width="0.7"/>
<circle cx="390.61" cy="325.24" r="2" fill="#fff" stroke="#333" stroke-width="0.8"/>
<line x1="438.89" y1="327.38" x2="438.89" y2="333.98" stroke="#777" stroke-width="0.8"/>
<line x1="437.59" y1="327.38" x2="440.19" y2="327.38" stroke="#888" stroke-width="0.7"/>
<line x1="437.59" y1="333.98" x2="440.19" y2="333.98" stroke="#888" stroke-width="0.7"/>
<circle cx="438.89" cy="330.68" r="2" fill="#fff" stroke="#333" stroke-width="0.8"/>
<line x1="487.16" y1="252.58" x2="487.16" y2="270.18" stroke="#777" stroke-width="0.8"/>
<line x1="485.86" y1="252.58" x2="488.46" y2="252.58" stroke="#888" stroke-width="0.7"/>
<line x1="485.86" y1="270.18" x2="488.46" y2="270.18" stroke="#888" stroke-width="0.7"/>
<circle cx="487.16" cy="261.38" r="2" fill="#fff" stroke="#333" stroke-width="0.8"/>
<rect x="330.8" y="244.5" width="11.4" height="4.6" fill="#f4b183" stroke="#8a7566" stroke-width="0.6"/>
<text x="342.60" y="249.30" font-size="8.6" text-anchor="start" fill="#222" stroke="#222" stroke-width="0.3" textLength="60" lengthAdjust="spacingAndGlyphs">Austenite fraction</text>
<line x1="330.80" y1="262.00" x2="342.20" y2="262.00" stroke="#222" stroke-width="1.2"/>
<circle cx="336.6" cy="262" r="1.8" fill="#fff" stroke="#333" stroke-width="0.8"/>
<text x="342.60" y="264.30" font-size="8.6" text-anchor="start" fill="#222" stroke="#222" stroke-width="0.3" textLength="30.5" lengthAdjust="spacingAndGlyphs">Hardness</text>
<text x="295.80" y="305.10" font-size="10.6" text-anchor="middle" fill="#222" stroke="#222" stroke-width="0.3" transform="rotate(-90 295.80 305.10)" textLength="92.4" lengthAdjust="spacingAndGlyphs">Austenite fraction (%)</text>
<text x="545.80" y="302.80" font-size="10.8" text-anchor="middle" fill="#222" stroke="#222" stroke-width="0.3" transform="rotate(-90 545.80 302.80)" textLength="68" lengthAdjust="spacingAndGlyphs">Hardness (HV)</text>
<text x="417.80" y="407.30" font-size="10.5" text-anchor="middle" fill="#222" stroke="#222" stroke-width="0.3" textLength="121.4" lengthAdjust="spacingAndGlyphs">Partitioning temperature (°C)</text>
<text x="270.80" y="242.60" font-size="12" text-anchor="start" fill="#111" font-weight="bold" textLength="15.5" lengthAdjust="spacingAndGlyphs">(d)</text>
</svg>
</body></html>
